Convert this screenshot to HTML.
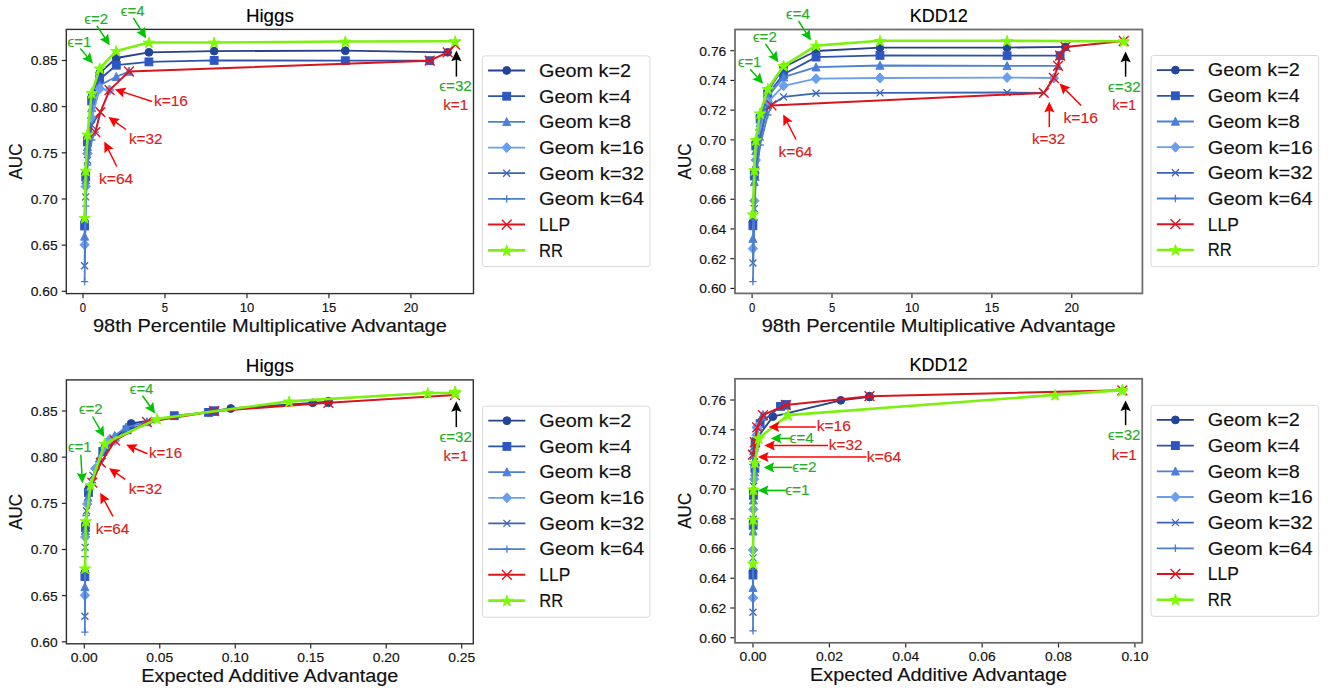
<!DOCTYPE html>
<html><head><meta charset="utf-8"><style>html,body{margin:0;padding:0;background:#fff;width:1331px;height:699px;overflow:hidden}svg{display:block}</style></head><body><svg width="1331" height="699" viewBox="0 0 1331 699" font-family='"Liberation Sans", sans-serif'><rect width="1331" height="699" fill="#fff"/>
<line x1="83" y1="293.6" x2="83" y2="298.2" stroke="#1e1e1e" stroke-width="1.15"/>
<text x="83" y="312" font-size="13.2" fill="#111" text-anchor="middle" stroke="#111" stroke-width="0.15" textLength="6.27" lengthAdjust="spacingAndGlyphs">0</text>
<line x1="164.97" y1="293.6" x2="164.97" y2="298.2" stroke="#1e1e1e" stroke-width="1.15"/>
<text x="164.97" y="312" font-size="13.2" fill="#111" text-anchor="middle" stroke="#111" stroke-width="0.15" textLength="6.27" lengthAdjust="spacingAndGlyphs">5</text>
<line x1="246.95" y1="293.6" x2="246.95" y2="298.2" stroke="#1e1e1e" stroke-width="1.15"/>
<text x="246.95" y="312" font-size="13.2" fill="#111" text-anchor="middle" stroke="#111" stroke-width="0.15" textLength="14.54" lengthAdjust="spacingAndGlyphs">10</text>
<line x1="328.93" y1="293.6" x2="328.93" y2="298.2" stroke="#1e1e1e" stroke-width="1.15"/>
<text x="328.93" y="312" font-size="13.2" fill="#111" text-anchor="middle" stroke="#111" stroke-width="0.15" textLength="14.54" lengthAdjust="spacingAndGlyphs">15</text>
<line x1="410.9" y1="293.6" x2="410.9" y2="298.2" stroke="#1e1e1e" stroke-width="1.15"/>
<text x="410.9" y="312" font-size="13.2" fill="#111" text-anchor="middle" stroke="#111" stroke-width="0.15" textLength="14.54" lengthAdjust="spacingAndGlyphs">20</text>
<line x1="61.7" y1="291.3" x2="66.3" y2="291.3" stroke="#1e1e1e" stroke-width="1.15"/>
<text x="57.6" y="296.2" font-size="13.2" fill="#111" text-anchor="end" stroke="#111" stroke-width="0.15" textLength="26.94" lengthAdjust="spacingAndGlyphs">0.60</text>
<line x1="61.7" y1="245.14" x2="66.3" y2="245.14" stroke="#1e1e1e" stroke-width="1.15"/>
<text x="57.6" y="250.04" font-size="13.2" fill="#111" text-anchor="end" stroke="#111" stroke-width="0.15" textLength="26.94" lengthAdjust="spacingAndGlyphs">0.65</text>
<line x1="61.7" y1="198.98" x2="66.3" y2="198.98" stroke="#1e1e1e" stroke-width="1.15"/>
<text x="57.6" y="203.88" font-size="13.2" fill="#111" text-anchor="end" stroke="#111" stroke-width="0.15" textLength="26.94" lengthAdjust="spacingAndGlyphs">0.70</text>
<line x1="61.7" y1="152.82" x2="66.3" y2="152.82" stroke="#1e1e1e" stroke-width="1.15"/>
<text x="57.6" y="157.72" font-size="13.2" fill="#111" text-anchor="end" stroke="#111" stroke-width="0.15" textLength="26.94" lengthAdjust="spacingAndGlyphs">0.75</text>
<line x1="61.7" y1="106.66" x2="66.3" y2="106.66" stroke="#1e1e1e" stroke-width="1.15"/>
<text x="57.6" y="111.56" font-size="13.2" fill="#111" text-anchor="end" stroke="#111" stroke-width="0.15" textLength="26.94" lengthAdjust="spacingAndGlyphs">0.80</text>
<line x1="61.7" y1="60.5" x2="66.3" y2="60.5" stroke="#1e1e1e" stroke-width="1.15"/>
<text x="57.6" y="65.4" font-size="13.2" fill="#111" text-anchor="end" stroke="#111" stroke-width="0.15" textLength="26.94" lengthAdjust="spacingAndGlyphs">0.85</text>
<rect x="66.3" y="29.4" width="407.2" height="264.2" fill="none" stroke="#303030" stroke-width="1.4"/>
<text x="269.9" y="21.8" font-size="17.8" fill="#000" text-anchor="middle" stroke="#000" stroke-width="0.15" textLength="48" lengthAdjust="spacingAndGlyphs">Higgs</text>
<text x="269.9" y="332.1" font-size="17.6" fill="#111" text-anchor="middle" stroke="#111" stroke-width="0.15" textLength="354" lengthAdjust="spacingAndGlyphs">98th Percentile Multiplicative Advantage</text>
<text x="22.3" y="161.5" font-size="17.6" fill="#111" text-anchor="middle" stroke="#111" stroke-width="0.15" textLength="36" lengthAdjust="spacingAndGlyphs" transform="rotate(-90 22.3 161.5)">AUC</text>
<polyline points="84.61,222 85.71,174 87.51,138 91.69,97 99.72,73 116.28,58 148.91,52.3 214.16,51.1 345.32,50.7 447.62,52.3" fill="none" stroke="#26408a" stroke-width="1.8" stroke-linejoin="round" stroke-linecap="butt"/>
<circle cx="84.61" cy="222" r="3.9" fill="#23449c" stroke="#23449c" stroke-width="1" stroke-linejoin="miter"/>
<circle cx="85.71" cy="174" r="3.9" fill="#23449c" stroke="#23449c" stroke-width="1" stroke-linejoin="miter"/>
<circle cx="87.51" cy="138" r="3.9" fill="#23449c" stroke="#23449c" stroke-width="1" stroke-linejoin="miter"/>
<circle cx="91.69" cy="97" r="3.9" fill="#23449c" stroke="#23449c" stroke-width="1" stroke-linejoin="miter"/>
<circle cx="99.72" cy="73" r="3.9" fill="#23449c" stroke="#23449c" stroke-width="1" stroke-linejoin="miter"/>
<circle cx="116.28" cy="58" r="3.9" fill="#23449c" stroke="#23449c" stroke-width="1" stroke-linejoin="miter"/>
<circle cx="148.91" cy="52.3" r="3.9" fill="#23449c" stroke="#23449c" stroke-width="1" stroke-linejoin="miter"/>
<circle cx="214.16" cy="51.1" r="3.9" fill="#23449c" stroke="#23449c" stroke-width="1" stroke-linejoin="miter"/>
<circle cx="345.32" cy="50.7" r="3.9" fill="#23449c" stroke="#23449c" stroke-width="1" stroke-linejoin="miter"/>
<circle cx="447.62" cy="52.3" r="3.9" fill="#23449c" stroke="#23449c" stroke-width="1" stroke-linejoin="miter"/>
<polyline points="84.61,226 85.71,177 87.51,142 91.69,101 99.72,79.3 116.28,65.2 148.91,61.9 214.16,60.4 345.32,60.7 429.75,60.7" fill="none" stroke="#2d52ac" stroke-width="1.8" stroke-linejoin="round" stroke-linecap="butt"/>
<rect x="80.71" y="222.1" width="7.8" height="7.8" fill="#2c56c2" stroke="#2c56c2" stroke-width="1" stroke-linejoin="miter"/>
<rect x="81.81" y="173.1" width="7.8" height="7.8" fill="#2c56c2" stroke="#2c56c2" stroke-width="1" stroke-linejoin="miter"/>
<rect x="83.61" y="138.1" width="7.8" height="7.8" fill="#2c56c2" stroke="#2c56c2" stroke-width="1" stroke-linejoin="miter"/>
<rect x="87.79" y="97.1" width="7.8" height="7.8" fill="#2c56c2" stroke="#2c56c2" stroke-width="1" stroke-linejoin="miter"/>
<rect x="95.82" y="75.4" width="7.8" height="7.8" fill="#2c56c2" stroke="#2c56c2" stroke-width="1" stroke-linejoin="miter"/>
<rect x="112.38" y="61.3" width="7.8" height="7.8" fill="#2c56c2" stroke="#2c56c2" stroke-width="1" stroke-linejoin="miter"/>
<rect x="145.01" y="58" width="7.8" height="7.8" fill="#2c56c2" stroke="#2c56c2" stroke-width="1" stroke-linejoin="miter"/>
<rect x="210.26" y="56.5" width="7.8" height="7.8" fill="#2c56c2" stroke="#2c56c2" stroke-width="1" stroke-linejoin="miter"/>
<rect x="341.42" y="56.8" width="7.8" height="7.8" fill="#2c56c2" stroke="#2c56c2" stroke-width="1" stroke-linejoin="miter"/>
<rect x="425.85" y="56.8" width="7.8" height="7.8" fill="#2c56c2" stroke="#2c56c2" stroke-width="1" stroke-linejoin="miter"/>
<polyline points="84.61,236.5 85.71,180.3 87.51,147 91.69,108 99.72,85.3 116.28,76.8 128.91,71.5" fill="none" stroke="#4e7fd2" stroke-width="1.8" stroke-linejoin="round" stroke-linecap="butt"/>
<polygon points="84.61,232.2 80.61,240.2 88.61,240.2" fill="#4a80dc" stroke="#4a80dc" stroke-width="1" stroke-linejoin="miter"/>
<polygon points="85.71,176 81.71,184 89.71,184" fill="#4a80dc" stroke="#4a80dc" stroke-width="1" stroke-linejoin="miter"/>
<polygon points="87.51,142.7 83.51,150.7 91.51,150.7" fill="#4a80dc" stroke="#4a80dc" stroke-width="1" stroke-linejoin="miter"/>
<polygon points="91.69,103.7 87.69,111.7 95.69,111.7" fill="#4a80dc" stroke="#4a80dc" stroke-width="1" stroke-linejoin="miter"/>
<polygon points="99.72,81 95.72,89 103.72,89" fill="#4a80dc" stroke="#4a80dc" stroke-width="1" stroke-linejoin="miter"/>
<polygon points="116.28,72.5 112.28,80.5 120.28,80.5" fill="#4a80dc" stroke="#4a80dc" stroke-width="1" stroke-linejoin="miter"/>
<polygon points="128.91,67.2 124.91,75.2 132.91,75.2" fill="#4a80dc" stroke="#4a80dc" stroke-width="1" stroke-linejoin="miter"/>
<polyline points="84.61,244.8 85.71,186.6 87.51,153.4 91.69,118 99.72,88.8 109.56,90.1" fill="none" stroke="#6c9fea" stroke-width="1.8" stroke-linejoin="round" stroke-linecap="butt"/>
<polygon points="84.61,239.8 89.31,244.8 84.61,249.8 79.91,244.8" fill="#6b9ef0" stroke="#6b9ef0" stroke-width="1" stroke-linejoin="miter"/>
<polygon points="85.71,181.6 90.41,186.6 85.71,191.6 81.01,186.6" fill="#6b9ef0" stroke="#6b9ef0" stroke-width="1" stroke-linejoin="miter"/>
<polygon points="87.51,148.4 92.21,153.4 87.51,158.4 82.81,153.4" fill="#6b9ef0" stroke="#6b9ef0" stroke-width="1" stroke-linejoin="miter"/>
<polygon points="91.69,113 96.39,118 91.69,123 86.99,118" fill="#6b9ef0" stroke="#6b9ef0" stroke-width="1" stroke-linejoin="miter"/>
<polygon points="99.72,83.8 104.42,88.8 99.72,93.8 95.02,88.8" fill="#6b9ef0" stroke="#6b9ef0" stroke-width="1" stroke-linejoin="miter"/>
<polygon points="109.56,85.1 114.26,90.1 109.56,95.1 104.86,90.1" fill="#6b9ef0" stroke="#6b9ef0" stroke-width="1" stroke-linejoin="miter"/>
<polyline points="84.61,265.8 85.71,196.9 87.51,160.3 91.69,125 100.38,112.2" fill="none" stroke="#3a63b2" stroke-width="1.8" stroke-linejoin="round" stroke-linecap="butt"/>
<path d="M81.11 262.3L88.11 269.3M81.11 269.3L88.11 262.3" stroke="#3a66b8" stroke-width="1.3"/>
<path d="M82.21 193.4L89.21 200.4M82.21 200.4L89.21 193.4" stroke="#3a66b8" stroke-width="1.3"/>
<path d="M84.01 156.8L91.01 163.8M84.01 163.8L91.01 156.8" stroke="#3a66b8" stroke-width="1.3"/>
<path d="M88.19 121.5L95.19 128.5M88.19 128.5L95.19 121.5" stroke="#3a66b8" stroke-width="1.3"/>
<path d="M96.88 108.7L103.88 115.7M96.88 115.7L103.88 108.7" stroke="#3a66b8" stroke-width="1.3"/>
<polyline points="84.61,281.6 85.71,206.1 87.51,165 91.69,140 95.3,132.2" fill="none" stroke="#4d7fcc" stroke-width="1.8" stroke-linejoin="round" stroke-linecap="butt"/>
<path d="M80.91 281.6L88.31 281.6M84.61 277.9L84.61 285.3" stroke="#4a7ccc" stroke-width="1.3"/>
<path d="M82.01 206.1L89.41 206.1M85.71 202.4L85.71 209.8" stroke="#4a7ccc" stroke-width="1.3"/>
<path d="M83.81 165L91.21 165M87.51 161.3L87.51 168.7" stroke="#4a7ccc" stroke-width="1.3"/>
<path d="M87.99 140L95.39 140M91.69 136.3L91.69 143.7" stroke="#4a7ccc" stroke-width="1.3"/>
<path d="M91.6 132.2L99 132.2M95.3 128.5L95.3 135.9" stroke="#4a7ccc" stroke-width="1.3"/>
<polyline points="95.3,132.2 100.38,112.2 109.56,90.1 128.91,71.5 429.75,60.7 447.62,52.3 455.17,44.5" fill="none" stroke="#d8141e" stroke-width="2" stroke-linejoin="round" stroke-linecap="butt"/>
<path d="M90.4 127.3L100.2 137.1M90.4 137.1L100.2 127.3" stroke="#dc1620" stroke-width="1.4"/>
<path d="M95.48 107.3L105.28 117.1M95.48 117.1L105.28 107.3" stroke="#dc1620" stroke-width="1.4"/>
<path d="M104.66 85.2L114.46 95M104.66 95L114.46 85.2" stroke="#dc1620" stroke-width="1.4"/>
<path d="M124.01 66.6L133.81 76.4M124.01 76.4L133.81 66.6" stroke="#dc1620" stroke-width="1.4"/>
<path d="M424.85 55.8L434.65 65.6M424.85 65.6L434.65 55.8" stroke="#dc1620" stroke-width="1.4"/>
<path d="M442.72 47.4L452.52 57.2M442.72 57.2L452.52 47.4" stroke="#dc1620" stroke-width="1.4"/>
<path d="M450.27 39.6L460.07 49.4M450.27 49.4L460.07 39.6" stroke="#dc1620" stroke-width="1.4"/>
<polyline points="84.61,217.8 85.71,170.6 87.51,134.5 91.69,93 99.72,68.4 116.28,50.9 148.91,42.5 214.16,42.5 345.32,41.5 455.17,41.2" fill="none" stroke="#7cf010" stroke-width="2.6" stroke-linejoin="round" stroke-linecap="butt"/>
<polygon points="84.61,212.3 83.26,216.45 78.9,216.45 82.43,219.01 81.08,223.15 84.61,220.59 88.13,223.15 86.79,219.01 90.31,216.45 85.95,216.45" fill="#7cfc00" stroke="#7cfc00" stroke-width="1" stroke-linejoin="miter"/>
<polygon points="85.71,165.1 84.36,169.25 80,169.25 83.53,171.81 82.18,175.95 85.71,173.39 89.23,175.95 87.88,171.81 91.41,169.25 87.05,169.25" fill="#7cfc00" stroke="#7cfc00" stroke-width="1" stroke-linejoin="miter"/>
<polygon points="87.51,129 86.16,133.15 81.8,133.15 85.33,135.71 83.98,139.85 87.51,137.29 91.04,139.85 89.69,135.71 93.21,133.15 88.86,133.15" fill="#7cfc00" stroke="#7cfc00" stroke-width="1" stroke-linejoin="miter"/>
<polygon points="91.69,87.5 90.34,91.65 85.98,91.65 89.51,94.21 88.16,98.35 91.69,95.79 95.22,98.35 93.87,94.21 97.4,91.65 93.04,91.65" fill="#7cfc00" stroke="#7cfc00" stroke-width="1" stroke-linejoin="miter"/>
<polygon points="99.72,62.9 98.38,67.05 94.02,67.05 97.54,69.61 96.2,73.75 99.72,71.19 103.25,73.75 101.9,69.61 105.43,67.05 101.07,67.05" fill="#7cfc00" stroke="#7cfc00" stroke-width="1" stroke-linejoin="miter"/>
<polygon points="116.28,45.4 114.93,49.55 110.58,49.55 114.1,52.11 112.76,56.25 116.28,53.69 119.81,56.25 118.46,52.11 121.99,49.55 117.63,49.55" fill="#7cfc00" stroke="#7cfc00" stroke-width="1" stroke-linejoin="miter"/>
<polygon points="148.91,37 147.56,41.15 143.2,41.15 146.73,43.71 145.38,47.85 148.91,45.29 152.43,47.85 151.09,43.71 154.61,41.15 150.25,41.15" fill="#7cfc00" stroke="#7cfc00" stroke-width="1" stroke-linejoin="miter"/>
<polygon points="214.16,37 212.81,41.15 208.45,41.15 211.98,43.71 210.63,47.85 214.16,45.29 217.69,47.85 216.34,43.71 219.87,41.15 215.51,41.15" fill="#7cfc00" stroke="#7cfc00" stroke-width="1" stroke-linejoin="miter"/>
<polygon points="345.32,36 343.97,40.15 339.61,40.15 343.14,42.71 341.79,46.85 345.32,44.29 348.85,46.85 347.5,42.71 351.03,40.15 346.67,40.15" fill="#7cfc00" stroke="#7cfc00" stroke-width="1" stroke-linejoin="miter"/>
<polygon points="455.17,35.7 453.82,39.85 449.46,39.85 452.99,42.41 451.64,46.55 455.17,43.99 458.69,46.55 457.35,42.41 460.87,39.85 456.51,39.85" fill="#7cfc00" stroke="#7cfc00" stroke-width="1" stroke-linejoin="miter"/>
<line x1="80.3" y1="48.6" x2="87.57" y2="57.12" stroke="#00c400" stroke-width="1.5"/>
<polygon points="92.95,63.43 82.19,58.68 87.24,56.74 89.95,52.06" fill="#00c400"/>
<text x="67.6" y="46.8" font-size="14.3" fill="#26ad26" text-anchor="start" stroke="#26ad26" stroke-width="0.15" textLength="23.7" lengthAdjust="spacingAndGlyphs">ϵ=1</text>
<line x1="96.9" y1="25.8" x2="105.19" y2="38.27" stroke="#00c400" stroke-width="1.5"/>
<polygon points="109.79,45.18 99.67,39.18 104.92,37.85 108.17,33.53" fill="#00c400"/>
<text x="84.3" y="23.6" font-size="14.3" fill="#26ad26" text-anchor="start" stroke="#26ad26" stroke-width="0.15" textLength="23.7" lengthAdjust="spacingAndGlyphs">ϵ=2</text>
<line x1="133.4" y1="18" x2="141.77" y2="31.36" stroke="#00c400" stroke-width="1.5"/>
<polygon points="146.17,38.39 136.22,32.12 141.5,30.94 144.87,26.7" fill="#00c400"/>
<text x="120.8" y="16.3" font-size="14.3" fill="#26ad26" text-anchor="start" stroke="#26ad26" stroke-width="0.15" textLength="23.7" lengthAdjust="spacingAndGlyphs">ϵ=4</text>
<line x1="456.4" y1="76.6" x2="456.4" y2="58.9" stroke="#000" stroke-width="1.5"/>
<polygon points="456.4,50.6 461.5,61.2 456.4,59.4 451.3,61.2" fill="#000"/>
<text x="439.3" y="90.5" font-size="14.3" fill="#26ad26" text-anchor="start" stroke="#26ad26" stroke-width="0.15" textLength="32.5" lengthAdjust="spacingAndGlyphs">ϵ=32</text>
<text x="443.2" y="109.8" font-size="14.3" fill="#d82020" text-anchor="start" stroke="#d82020" stroke-width="0.15" textLength="24.9" lengthAdjust="spacingAndGlyphs">k=1</text>
<line x1="152" y1="101.5" x2="122.72" y2="91.87" stroke="#ff0000" stroke-width="1.5"/>
<polygon points="114.84,89.28 126.5,87.75 123.19,92.03 123.31,97.44" fill="#ff0000"/>
<text x="153.9" y="106.2" font-size="14.3" fill="#d82020" text-anchor="start" stroke="#d82020" stroke-width="0.15" textLength="34" lengthAdjust="spacingAndGlyphs">k=16</text>
<line x1="126" y1="129.5" x2="115.21" y2="121.88" stroke="#ff0000" stroke-width="1.5"/>
<polygon points="108.43,117.1 120.03,119.04 115.62,122.17 114.15,127.38" fill="#ff0000"/>
<text x="128.9" y="144.1" font-size="14.3" fill="#d82020" text-anchor="start" stroke="#d82020" stroke-width="0.15" textLength="33.5" lengthAdjust="spacingAndGlyphs">k=32</text>
<line x1="116.8" y1="166.5" x2="108.01" y2="148.99" stroke="#ff0000" stroke-width="1.5"/>
<polygon points="104.29,141.57 113.6,148.76 108.23,149.44 104.48,153.34" fill="#ff0000"/>
<text x="99" y="183.6" font-size="14.3" fill="#d82020" text-anchor="start" stroke="#d82020" stroke-width="0.15" textLength="34.3" lengthAdjust="spacingAndGlyphs">k=64</text>
<rect x="482.3" y="55.9" width="167.7" height="210.7" rx="2.5" fill="#fff" stroke="#d9d9d9" stroke-width="1"/>
<line x1="488.1" y1="70.5" x2="525.1" y2="70.5" stroke="#26408a" stroke-width="1.8"/>
<circle cx="506.7" cy="70.5" r="3.9" fill="#23449c" stroke="#23449c" stroke-width="1" stroke-linejoin="miter"/>
<text x="539.1" y="76.8" font-size="17.6" fill="#111" text-anchor="start" stroke="#111" stroke-width="0.15" textLength="92" lengthAdjust="spacingAndGlyphs">Geom k=2</text>
<line x1="488.1" y1="96.2" x2="525.1" y2="96.2" stroke="#2d52ac" stroke-width="1.8"/>
<rect x="502.8" y="92.3" width="7.8" height="7.8" fill="#2c56c2" stroke="#2c56c2" stroke-width="1" stroke-linejoin="miter"/>
<text x="539.1" y="102.5" font-size="17.6" fill="#111" text-anchor="start" stroke="#111" stroke-width="0.15" textLength="92" lengthAdjust="spacingAndGlyphs">Geom k=4</text>
<line x1="488.1" y1="121.9" x2="525.1" y2="121.9" stroke="#4e7fd2" stroke-width="1.8"/>
<polygon points="506.7,117.6 502.7,125.6 510.7,125.6" fill="#4a80dc" stroke="#4a80dc" stroke-width="1" stroke-linejoin="miter"/>
<text x="539.1" y="128.2" font-size="17.6" fill="#111" text-anchor="start" stroke="#111" stroke-width="0.15" textLength="92" lengthAdjust="spacingAndGlyphs">Geom k=8</text>
<line x1="488.1" y1="147.6" x2="525.1" y2="147.6" stroke="#6c9fea" stroke-width="1.8"/>
<polygon points="506.7,142.6 511.4,147.6 506.7,152.6 502,147.6" fill="#6b9ef0" stroke="#6b9ef0" stroke-width="1" stroke-linejoin="miter"/>
<text x="539.1" y="153.9" font-size="17.6" fill="#111" text-anchor="start" stroke="#111" stroke-width="0.15" textLength="105" lengthAdjust="spacingAndGlyphs">Geom k=16</text>
<line x1="488.1" y1="173.2" x2="525.1" y2="173.2" stroke="#3a63b2" stroke-width="1.8"/>
<path d="M503.2 169.7L510.2 176.7M503.2 176.7L510.2 169.7" stroke="#3a66b8" stroke-width="1.3"/>
<text x="539.1" y="179.5" font-size="17.6" fill="#111" text-anchor="start" stroke="#111" stroke-width="0.15" textLength="105" lengthAdjust="spacingAndGlyphs">Geom k=32</text>
<line x1="488.1" y1="198.9" x2="525.1" y2="198.9" stroke="#4d7fcc" stroke-width="1.8"/>
<path d="M503 198.9L510.4 198.9M506.7 195.2L506.7 202.6" stroke="#4a7ccc" stroke-width="1.3"/>
<text x="539.1" y="205.2" font-size="17.6" fill="#111" text-anchor="start" stroke="#111" stroke-width="0.15" textLength="105" lengthAdjust="spacingAndGlyphs">Geom k=64</text>
<line x1="488.1" y1="224.6" x2="525.1" y2="224.6" stroke="#d8141e" stroke-width="2"/>
<path d="M501.8 219.7L511.6 229.5M501.8 229.5L511.6 219.7" stroke="#dc1620" stroke-width="1.4"/>
<text x="539.1" y="230.9" font-size="17.6" fill="#111" text-anchor="start" stroke="#111" stroke-width="0.15" textLength="31" lengthAdjust="spacingAndGlyphs">LLP</text>
<line x1="488.1" y1="250.4" x2="525.1" y2="250.4" stroke="#7cf010" stroke-width="2.6"/>
<polygon points="506.7,244.9 505.35,249.05 500.99,249.05 504.52,251.61 503.17,255.75 506.7,253.19 510.23,255.75 508.88,251.61 512.41,249.05 508.05,249.05" fill="#7cfc00" stroke="#7cfc00" stroke-width="1" stroke-linejoin="miter"/>
<text x="539.1" y="256.7" font-size="17.6" fill="#111" text-anchor="start" stroke="#111" stroke-width="0.15" textLength="24" lengthAdjust="spacingAndGlyphs">RR</text>
<line x1="752.1" y1="293.4" x2="752.1" y2="298" stroke="#1e1e1e" stroke-width="1.15"/>
<text x="752.1" y="311.8" font-size="13.2" fill="#111" text-anchor="middle" stroke="#111" stroke-width="0.15" textLength="6.27" lengthAdjust="spacingAndGlyphs">0</text>
<line x1="832.02" y1="293.4" x2="832.02" y2="298" stroke="#1e1e1e" stroke-width="1.15"/>
<text x="832.02" y="311.8" font-size="13.2" fill="#111" text-anchor="middle" stroke="#111" stroke-width="0.15" textLength="6.27" lengthAdjust="spacingAndGlyphs">5</text>
<line x1="911.95" y1="293.4" x2="911.95" y2="298" stroke="#1e1e1e" stroke-width="1.15"/>
<text x="911.95" y="311.8" font-size="13.2" fill="#111" text-anchor="middle" stroke="#111" stroke-width="0.15" textLength="14.54" lengthAdjust="spacingAndGlyphs">10</text>
<line x1="991.88" y1="293.4" x2="991.88" y2="298" stroke="#1e1e1e" stroke-width="1.15"/>
<text x="991.88" y="311.8" font-size="13.2" fill="#111" text-anchor="middle" stroke="#111" stroke-width="0.15" textLength="14.54" lengthAdjust="spacingAndGlyphs">15</text>
<line x1="1071.8" y1="293.4" x2="1071.8" y2="298" stroke="#1e1e1e" stroke-width="1.15"/>
<text x="1071.8" y="311.8" font-size="13.2" fill="#111" text-anchor="middle" stroke="#111" stroke-width="0.15" textLength="14.54" lengthAdjust="spacingAndGlyphs">20</text>
<line x1="730.4" y1="288.4" x2="735" y2="288.4" stroke="#1e1e1e" stroke-width="1.15"/>
<text x="726.3" y="293.3" font-size="13.2" fill="#111" text-anchor="end" stroke="#111" stroke-width="0.15" textLength="26.94" lengthAdjust="spacingAndGlyphs">0.60</text>
<line x1="730.4" y1="258.69" x2="735" y2="258.69" stroke="#1e1e1e" stroke-width="1.15"/>
<text x="726.3" y="263.59" font-size="13.2" fill="#111" text-anchor="end" stroke="#111" stroke-width="0.15" textLength="26.94" lengthAdjust="spacingAndGlyphs">0.62</text>
<line x1="730.4" y1="228.97" x2="735" y2="228.97" stroke="#1e1e1e" stroke-width="1.15"/>
<text x="726.3" y="233.87" font-size="13.2" fill="#111" text-anchor="end" stroke="#111" stroke-width="0.15" textLength="26.94" lengthAdjust="spacingAndGlyphs">0.64</text>
<line x1="730.4" y1="199.26" x2="735" y2="199.26" stroke="#1e1e1e" stroke-width="1.15"/>
<text x="726.3" y="204.16" font-size="13.2" fill="#111" text-anchor="end" stroke="#111" stroke-width="0.15" textLength="26.94" lengthAdjust="spacingAndGlyphs">0.66</text>
<line x1="730.4" y1="169.55" x2="735" y2="169.55" stroke="#1e1e1e" stroke-width="1.15"/>
<text x="726.3" y="174.45" font-size="13.2" fill="#111" text-anchor="end" stroke="#111" stroke-width="0.15" textLength="26.94" lengthAdjust="spacingAndGlyphs">0.68</text>
<line x1="730.4" y1="139.84" x2="735" y2="139.84" stroke="#1e1e1e" stroke-width="1.15"/>
<text x="726.3" y="144.74" font-size="13.2" fill="#111" text-anchor="end" stroke="#111" stroke-width="0.15" textLength="26.94" lengthAdjust="spacingAndGlyphs">0.70</text>
<line x1="730.4" y1="110.13" x2="735" y2="110.13" stroke="#1e1e1e" stroke-width="1.15"/>
<text x="726.3" y="115.03" font-size="13.2" fill="#111" text-anchor="end" stroke="#111" stroke-width="0.15" textLength="26.94" lengthAdjust="spacingAndGlyphs">0.72</text>
<line x1="730.4" y1="80.41" x2="735" y2="80.41" stroke="#1e1e1e" stroke-width="1.15"/>
<text x="726.3" y="85.31" font-size="13.2" fill="#111" text-anchor="end" stroke="#111" stroke-width="0.15" textLength="26.94" lengthAdjust="spacingAndGlyphs">0.74</text>
<line x1="730.4" y1="50.7" x2="735" y2="50.7" stroke="#1e1e1e" stroke-width="1.15"/>
<text x="726.3" y="55.6" font-size="13.2" fill="#111" text-anchor="end" stroke="#111" stroke-width="0.15" textLength="26.94" lengthAdjust="spacingAndGlyphs">0.76</text>
<rect x="735" y="29.5" width="407.4" height="263.9" fill="none" stroke="#6e6e6e" stroke-width="1.8"/>
<text x="938.7" y="21.9" font-size="17.8" fill="#000" text-anchor="middle" stroke="#000" stroke-width="0.15" textLength="58" lengthAdjust="spacingAndGlyphs">KDD12</text>
<text x="938.7" y="331.9" font-size="17.6" fill="#111" text-anchor="middle" stroke="#111" stroke-width="0.15" textLength="354" lengthAdjust="spacingAndGlyphs">98th Percentile Multiplicative Advantage</text>
<text x="691" y="161.45" font-size="17.6" fill="#111" text-anchor="middle" stroke="#111" stroke-width="0.15" textLength="36" lengthAdjust="spacingAndGlyphs" transform="rotate(-90 691 161.45)">AUC</text>
<polyline points="752.9,222 754.34,172 755.78,142 760.09,116 767.77,91 783.59,67.3 816.04,51 879.98,47.6 1007.06,47.6 1065.41,46.9" fill="none" stroke="#26408a" stroke-width="1.8" stroke-linejoin="round" stroke-linecap="butt"/>
<circle cx="752.9" cy="222" r="3.9" fill="#23449c" stroke="#23449c" stroke-width="1" stroke-linejoin="miter"/>
<circle cx="754.34" cy="172" r="3.9" fill="#23449c" stroke="#23449c" stroke-width="1" stroke-linejoin="miter"/>
<circle cx="755.78" cy="142" r="3.9" fill="#23449c" stroke="#23449c" stroke-width="1" stroke-linejoin="miter"/>
<circle cx="760.09" cy="116" r="3.9" fill="#23449c" stroke="#23449c" stroke-width="1" stroke-linejoin="miter"/>
<circle cx="767.77" cy="91" r="3.9" fill="#23449c" stroke="#23449c" stroke-width="1" stroke-linejoin="miter"/>
<circle cx="783.59" cy="67.3" r="3.9" fill="#23449c" stroke="#23449c" stroke-width="1" stroke-linejoin="miter"/>
<circle cx="816.04" cy="51" r="3.9" fill="#23449c" stroke="#23449c" stroke-width="1" stroke-linejoin="miter"/>
<circle cx="879.98" cy="47.6" r="3.9" fill="#23449c" stroke="#23449c" stroke-width="1" stroke-linejoin="miter"/>
<circle cx="1007.06" cy="47.6" r="3.9" fill="#23449c" stroke="#23449c" stroke-width="1" stroke-linejoin="miter"/>
<circle cx="1065.41" cy="46.9" r="3.9" fill="#23449c" stroke="#23449c" stroke-width="1" stroke-linejoin="miter"/>
<polyline points="752.9,225.8 754.34,176 755.78,146 760.09,119 767.77,94 783.59,74.3 816.04,57.1 879.98,55.4 1007.06,55.7 1060.13,55.7" fill="none" stroke="#2d52ac" stroke-width="1.8" stroke-linejoin="round" stroke-linecap="butt"/>
<rect x="749" y="221.9" width="7.8" height="7.8" fill="#2c56c2" stroke="#2c56c2" stroke-width="1" stroke-linejoin="miter"/>
<rect x="750.44" y="172.1" width="7.8" height="7.8" fill="#2c56c2" stroke="#2c56c2" stroke-width="1" stroke-linejoin="miter"/>
<rect x="751.88" y="142.1" width="7.8" height="7.8" fill="#2c56c2" stroke="#2c56c2" stroke-width="1" stroke-linejoin="miter"/>
<rect x="756.19" y="115.1" width="7.8" height="7.8" fill="#2c56c2" stroke="#2c56c2" stroke-width="1" stroke-linejoin="miter"/>
<rect x="763.87" y="90.1" width="7.8" height="7.8" fill="#2c56c2" stroke="#2c56c2" stroke-width="1" stroke-linejoin="miter"/>
<rect x="779.69" y="70.4" width="7.8" height="7.8" fill="#2c56c2" stroke="#2c56c2" stroke-width="1" stroke-linejoin="miter"/>
<rect x="812.14" y="53.2" width="7.8" height="7.8" fill="#2c56c2" stroke="#2c56c2" stroke-width="1" stroke-linejoin="miter"/>
<rect x="876.08" y="51.5" width="7.8" height="7.8" fill="#2c56c2" stroke="#2c56c2" stroke-width="1" stroke-linejoin="miter"/>
<rect x="1003.16" y="51.8" width="7.8" height="7.8" fill="#2c56c2" stroke="#2c56c2" stroke-width="1" stroke-linejoin="miter"/>
<rect x="1056.23" y="51.8" width="7.8" height="7.8" fill="#2c56c2" stroke="#2c56c2" stroke-width="1" stroke-linejoin="miter"/>
<polyline points="752.9,238.6 754.34,182 755.78,151 760.09,123 767.77,97 783.59,77.2 816.04,67.2 879.98,65.5 1007.06,65.9 1058.05,65.9" fill="none" stroke="#4e7fd2" stroke-width="1.8" stroke-linejoin="round" stroke-linecap="butt"/>
<polygon points="752.9,234.3 748.9,242.3 756.9,242.3" fill="#4a80dc" stroke="#4a80dc" stroke-width="1" stroke-linejoin="miter"/>
<polygon points="754.34,177.7 750.34,185.7 758.34,185.7" fill="#4a80dc" stroke="#4a80dc" stroke-width="1" stroke-linejoin="miter"/>
<polygon points="755.78,146.7 751.78,154.7 759.78,154.7" fill="#4a80dc" stroke="#4a80dc" stroke-width="1" stroke-linejoin="miter"/>
<polygon points="760.09,118.7 756.09,126.7 764.09,126.7" fill="#4a80dc" stroke="#4a80dc" stroke-width="1" stroke-linejoin="miter"/>
<polygon points="767.77,92.7 763.77,100.7 771.77,100.7" fill="#4a80dc" stroke="#4a80dc" stroke-width="1" stroke-linejoin="miter"/>
<polygon points="783.59,72.9 779.59,80.9 787.59,80.9" fill="#4a80dc" stroke="#4a80dc" stroke-width="1" stroke-linejoin="miter"/>
<polygon points="816.04,62.9 812.04,70.9 820.04,70.9" fill="#4a80dc" stroke="#4a80dc" stroke-width="1" stroke-linejoin="miter"/>
<polygon points="879.98,61.2 875.98,69.2 883.98,69.2" fill="#4a80dc" stroke="#4a80dc" stroke-width="1" stroke-linejoin="miter"/>
<polygon points="1007.06,61.6 1003.06,69.6 1011.06,69.6" fill="#4a80dc" stroke="#4a80dc" stroke-width="1" stroke-linejoin="miter"/>
<polygon points="1058.05,61.6 1054.05,69.6 1062.05,69.6" fill="#4a80dc" stroke="#4a80dc" stroke-width="1" stroke-linejoin="miter"/>
<polyline points="752.9,248.6 754.34,200.7 755.78,160 760.09,130 767.77,102 783.59,85.8 816.04,78.7 879.98,78 1007.06,77.6 1053.9,78" fill="none" stroke="#6c9fea" stroke-width="1.8" stroke-linejoin="round" stroke-linecap="butt"/>
<polygon points="752.9,243.6 757.6,248.6 752.9,253.6 748.2,248.6" fill="#6b9ef0" stroke="#6b9ef0" stroke-width="1" stroke-linejoin="miter"/>
<polygon points="754.34,195.7 759.04,200.7 754.34,205.7 749.64,200.7" fill="#6b9ef0" stroke="#6b9ef0" stroke-width="1" stroke-linejoin="miter"/>
<polygon points="755.78,155 760.48,160 755.78,165 751.08,160" fill="#6b9ef0" stroke="#6b9ef0" stroke-width="1" stroke-linejoin="miter"/>
<polygon points="760.09,125 764.79,130 760.09,135 755.39,130" fill="#6b9ef0" stroke="#6b9ef0" stroke-width="1" stroke-linejoin="miter"/>
<polygon points="767.77,97 772.47,102 767.77,107 763.07,102" fill="#6b9ef0" stroke="#6b9ef0" stroke-width="1" stroke-linejoin="miter"/>
<polygon points="783.59,80.8 788.29,85.8 783.59,90.8 778.89,85.8" fill="#6b9ef0" stroke="#6b9ef0" stroke-width="1" stroke-linejoin="miter"/>
<polygon points="816.04,73.7 820.74,78.7 816.04,83.7 811.34,78.7" fill="#6b9ef0" stroke="#6b9ef0" stroke-width="1" stroke-linejoin="miter"/>
<polygon points="879.98,73 884.68,78 879.98,83 875.28,78" fill="#6b9ef0" stroke="#6b9ef0" stroke-width="1" stroke-linejoin="miter"/>
<polygon points="1007.06,72.6 1011.76,77.6 1007.06,82.6 1002.36,77.6" fill="#6b9ef0" stroke="#6b9ef0" stroke-width="1" stroke-linejoin="miter"/>
<polygon points="1053.9,73 1058.6,78 1053.9,83 1049.2,78" fill="#6b9ef0" stroke="#6b9ef0" stroke-width="1" stroke-linejoin="miter"/>
<polyline points="752.9,263 754.34,208.6 755.78,170 760.09,137 767.77,107 783.59,96.9 816.04,93.3 879.98,92.9 1007.06,92.5 1043.83,92.9" fill="none" stroke="#3a63b2" stroke-width="1.8" stroke-linejoin="round" stroke-linecap="butt"/>
<path d="M749.4 259.5L756.4 266.5M749.4 266.5L756.4 259.5" stroke="#3a66b8" stroke-width="1.3"/>
<path d="M750.84 205.1L757.84 212.1M750.84 212.1L757.84 205.1" stroke="#3a66b8" stroke-width="1.3"/>
<path d="M752.28 166.5L759.28 173.5M752.28 173.5L759.28 166.5" stroke="#3a66b8" stroke-width="1.3"/>
<path d="M756.59 133.5L763.59 140.5M756.59 140.5L763.59 133.5" stroke="#3a66b8" stroke-width="1.3"/>
<path d="M764.27 103.5L771.27 110.5M764.27 110.5L771.27 103.5" stroke="#3a66b8" stroke-width="1.3"/>
<path d="M780.09 93.4L787.09 100.4M780.09 100.4L787.09 93.4" stroke="#3a66b8" stroke-width="1.3"/>
<path d="M812.54 89.8L819.54 96.8M812.54 96.8L819.54 89.8" stroke="#3a66b8" stroke-width="1.3"/>
<path d="M876.48 89.4L883.48 96.4M876.48 96.4L883.48 89.4" stroke="#3a66b8" stroke-width="1.3"/>
<path d="M1003.56 89L1010.56 96M1003.56 96L1010.56 89" stroke="#3a66b8" stroke-width="1.3"/>
<path d="M1040.33 89.4L1047.33 96.4M1040.33 96.4L1047.33 89.4" stroke="#3a66b8" stroke-width="1.3"/>
<polyline points="752.9,281.6 754.34,220 755.78,180 760.09,145 767.77,115 771.44,105.4" fill="none" stroke="#4d7fcc" stroke-width="1.8" stroke-linejoin="round" stroke-linecap="butt"/>
<path d="M749.2 281.6L756.6 281.6M752.9 277.9L752.9 285.3" stroke="#4a7ccc" stroke-width="1.3"/>
<path d="M750.64 220L758.04 220M754.34 216.3L754.34 223.7" stroke="#4a7ccc" stroke-width="1.3"/>
<path d="M752.08 180L759.48 180M755.78 176.3L755.78 183.7" stroke="#4a7ccc" stroke-width="1.3"/>
<path d="M756.39 145L763.79 145M760.09 141.3L760.09 148.7" stroke="#4a7ccc" stroke-width="1.3"/>
<path d="M764.07 115L771.47 115M767.77 111.3L767.77 118.7" stroke="#4a7ccc" stroke-width="1.3"/>
<path d="M767.74 105.4L775.14 105.4M771.44 101.7L771.44 109.1" stroke="#4a7ccc" stroke-width="1.3"/>
<polyline points="771.44,105.4 1043.83,92.9 1053.9,78 1058.05,65.9 1060.13,55.7 1065.41,46.9 1123.75,41" fill="none" stroke="#d8141e" stroke-width="2" stroke-linejoin="round" stroke-linecap="butt"/>
<path d="M766.54 100.5L776.34 110.3M766.54 110.3L776.34 100.5" stroke="#dc1620" stroke-width="1.4"/>
<path d="M1038.93 88L1048.73 97.8M1038.93 97.8L1048.73 88" stroke="#dc1620" stroke-width="1.4"/>
<path d="M1049 73.1L1058.8 82.9M1049 82.9L1058.8 73.1" stroke="#dc1620" stroke-width="1.4"/>
<path d="M1053.15 61L1062.95 70.8M1053.15 70.8L1062.95 61" stroke="#dc1620" stroke-width="1.4"/>
<path d="M1055.23 50.8L1065.03 60.6M1055.23 60.6L1065.03 50.8" stroke="#dc1620" stroke-width="1.4"/>
<path d="M1060.51 42L1070.31 51.8M1060.51 51.8L1070.31 42" stroke="#dc1620" stroke-width="1.4"/>
<path d="M1118.85 36.1L1128.65 45.9M1118.85 45.9L1128.65 36.1" stroke="#dc1620" stroke-width="1.4"/>
<polyline points="752.9,214.3 754.34,170.1 755.78,140.1 760.09,113.3 767.77,88.9 783.59,65.8 816.04,45.6 879.98,40.8 1007.06,40.8 1123.75,41.2" fill="none" stroke="#7cf010" stroke-width="2.6" stroke-linejoin="round" stroke-linecap="butt"/>
<polygon points="752.9,208.8 751.55,212.95 747.19,212.95 750.72,215.51 749.37,219.65 752.9,217.09 756.43,219.65 755.08,215.51 758.61,212.95 754.25,212.95" fill="#7cfc00" stroke="#7cfc00" stroke-width="1" stroke-linejoin="miter"/>
<polygon points="754.34,164.6 752.99,168.75 748.63,168.75 752.16,171.31 750.81,175.45 754.34,172.89 757.86,175.45 756.52,171.31 760.04,168.75 755.68,168.75" fill="#7cfc00" stroke="#7cfc00" stroke-width="1" stroke-linejoin="miter"/>
<polygon points="755.78,134.6 754.43,138.75 750.07,138.75 753.6,141.31 752.25,145.45 755.78,142.89 759.3,145.45 757.96,141.31 761.48,138.75 757.12,138.75" fill="#7cfc00" stroke="#7cfc00" stroke-width="1" stroke-linejoin="miter"/>
<polygon points="760.09,107.8 758.75,111.95 754.39,111.95 757.91,114.51 756.57,118.65 760.09,116.09 763.62,118.65 762.27,114.51 765.8,111.95 761.44,111.95" fill="#7cfc00" stroke="#7cfc00" stroke-width="1" stroke-linejoin="miter"/>
<polygon points="767.77,83.4 766.42,87.55 762.06,87.55 765.59,90.11 764.24,94.25 767.77,91.69 771.29,94.25 769.94,90.11 773.47,87.55 769.11,87.55" fill="#7cfc00" stroke="#7cfc00" stroke-width="1" stroke-linejoin="miter"/>
<polygon points="783.59,60.3 782.24,64.45 777.88,64.45 781.41,67.01 780.06,71.15 783.59,68.59 787.12,71.15 785.77,67.01 789.3,64.45 784.94,64.45" fill="#7cfc00" stroke="#7cfc00" stroke-width="1" stroke-linejoin="miter"/>
<polygon points="816.04,40.1 814.69,44.25 810.33,44.25 813.86,46.81 812.51,50.95 816.04,48.39 819.57,50.95 818.22,46.81 821.75,44.25 817.39,44.25" fill="#7cfc00" stroke="#7cfc00" stroke-width="1" stroke-linejoin="miter"/>
<polygon points="879.98,35.3 878.63,39.45 874.27,39.45 877.8,42.01 876.45,46.15 879.98,43.59 883.51,46.15 882.16,42.01 885.69,39.45 881.33,39.45" fill="#7cfc00" stroke="#7cfc00" stroke-width="1" stroke-linejoin="miter"/>
<polygon points="1007.06,35.3 1005.71,39.45 1001.35,39.45 1004.88,42.01 1003.53,46.15 1007.06,43.59 1010.59,46.15 1009.24,42.01 1012.77,39.45 1008.41,39.45" fill="#7cfc00" stroke="#7cfc00" stroke-width="1" stroke-linejoin="miter"/>
<polygon points="1123.75,35.7 1122.4,39.85 1118.04,39.85 1121.57,42.41 1120.22,46.55 1123.75,43.99 1127.28,46.55 1125.93,42.41 1129.46,39.85 1125.1,39.85" fill="#7cfc00" stroke="#7cfc00" stroke-width="1" stroke-linejoin="miter"/>
<line x1="750.2" y1="69.2" x2="757.58" y2="77.59" stroke="#00c400" stroke-width="1.5"/>
<polygon points="763.06,83.83 752.23,79.23 757.25,77.22 759.89,72.5" fill="#00c400"/>
<text x="737.9" y="66.6" font-size="14.3" fill="#26ad26" text-anchor="start" stroke="#26ad26" stroke-width="0.15" textLength="23.4" lengthAdjust="spacingAndGlyphs">ϵ=1</text>
<line x1="765.5" y1="44" x2="773.6" y2="55.4" stroke="#00c400" stroke-width="1.5"/>
<polygon points="778.41,62.17 768.11,56.48 773.31,55 776.43,50.58" fill="#00c400"/>
<text x="752.9" y="41.5" font-size="14.3" fill="#26ad26" text-anchor="start" stroke="#26ad26" stroke-width="0.15" textLength="23.9" lengthAdjust="spacingAndGlyphs">ϵ=2</text>
<line x1="798.6" y1="21" x2="806.54" y2="33.57" stroke="#00c400" stroke-width="1.5"/>
<polygon points="810.97,40.59 801,34.35 806.27,33.15 809.63,28.91" fill="#00c400"/>
<text x="786" y="18.8" font-size="14.3" fill="#26ad26" text-anchor="start" stroke="#26ad26" stroke-width="0.15" textLength="23.9" lengthAdjust="spacingAndGlyphs">ϵ=4</text>
<line x1="1125.6" y1="76.7" x2="1125.6" y2="59.9" stroke="#000" stroke-width="1.5"/>
<polygon points="1125.6,51.6 1130.7,62.2 1125.6,60.4 1120.5,62.2" fill="#000"/>
<text x="1108.1" y="91.6" font-size="14.3" fill="#26ad26" text-anchor="start" stroke="#26ad26" stroke-width="0.15" textLength="32.5" lengthAdjust="spacingAndGlyphs">ϵ=32</text>
<text x="1112.2" y="109.6" font-size="14.3" fill="#d82020" text-anchor="start" stroke="#d82020" stroke-width="0.15" textLength="24.1" lengthAdjust="spacingAndGlyphs">k=1</text>
<line x1="796" y1="139.5" x2="786.95" y2="121.77" stroke="#ff0000" stroke-width="1.5"/>
<polygon points="783.18,114.38 792.54,121.5 787.18,122.22 783.46,126.14" fill="#ff0000"/>
<text x="778.4" y="156.6" font-size="14.3" fill="#d82020" text-anchor="start" stroke="#d82020" stroke-width="0.15" textLength="34" lengthAdjust="spacingAndGlyphs">k=64</text>
<line x1="1049.3" y1="127" x2="1049.3" y2="110.1" stroke="#ff0000" stroke-width="1.5"/>
<polygon points="1049.3,101.8 1054.4,112.4 1049.3,110.6 1044.2,112.4" fill="#ff0000"/>
<text x="1031.9" y="144.1" font-size="14.3" fill="#d82020" text-anchor="start" stroke="#d82020" stroke-width="0.15" textLength="33.4" lengthAdjust="spacingAndGlyphs">k=32</text>
<line x1="1081.1" y1="105.5" x2="1065.32" y2="89.42" stroke="#ff0000" stroke-width="1.5"/>
<polygon points="1059.51,83.5 1070.57,87.49 1065.67,89.78 1063.29,94.64" fill="#ff0000"/>
<text x="1063.4" y="122.5" font-size="14.3" fill="#d82020" text-anchor="start" stroke="#d82020" stroke-width="0.15" textLength="34.5" lengthAdjust="spacingAndGlyphs">k=16</text>
<rect x="1151" y="55.5" width="167.6" height="211.2" rx="2.5" fill="#fff" stroke="#d9d9d9" stroke-width="1"/>
<line x1="1156.8" y1="70.1" x2="1193.8" y2="70.1" stroke="#26408a" stroke-width="1.8"/>
<circle cx="1175.4" cy="70.1" r="3.9" fill="#23449c" stroke="#23449c" stroke-width="1" stroke-linejoin="miter"/>
<text x="1207.8" y="76.4" font-size="17.6" fill="#111" text-anchor="start" stroke="#111" stroke-width="0.15" textLength="92" lengthAdjust="spacingAndGlyphs">Geom k=2</text>
<line x1="1156.8" y1="95.8" x2="1193.8" y2="95.8" stroke="#2d52ac" stroke-width="1.8"/>
<rect x="1171.5" y="91.9" width="7.8" height="7.8" fill="#2c56c2" stroke="#2c56c2" stroke-width="1" stroke-linejoin="miter"/>
<text x="1207.8" y="102.1" font-size="17.6" fill="#111" text-anchor="start" stroke="#111" stroke-width="0.15" textLength="92" lengthAdjust="spacingAndGlyphs">Geom k=4</text>
<line x1="1156.8" y1="121.5" x2="1193.8" y2="121.5" stroke="#4e7fd2" stroke-width="1.8"/>
<polygon points="1175.4,117.2 1171.4,125.2 1179.4,125.2" fill="#4a80dc" stroke="#4a80dc" stroke-width="1" stroke-linejoin="miter"/>
<text x="1207.8" y="127.8" font-size="17.6" fill="#111" text-anchor="start" stroke="#111" stroke-width="0.15" textLength="92" lengthAdjust="spacingAndGlyphs">Geom k=8</text>
<line x1="1156.8" y1="147.2" x2="1193.8" y2="147.2" stroke="#6c9fea" stroke-width="1.8"/>
<polygon points="1175.4,142.2 1180.1,147.2 1175.4,152.2 1170.7,147.2" fill="#6b9ef0" stroke="#6b9ef0" stroke-width="1" stroke-linejoin="miter"/>
<text x="1207.8" y="153.5" font-size="17.6" fill="#111" text-anchor="start" stroke="#111" stroke-width="0.15" textLength="105" lengthAdjust="spacingAndGlyphs">Geom k=16</text>
<line x1="1156.8" y1="172.8" x2="1193.8" y2="172.8" stroke="#3a63b2" stroke-width="1.8"/>
<path d="M1171.9 169.3L1178.9 176.3M1171.9 176.3L1178.9 169.3" stroke="#3a66b8" stroke-width="1.3"/>
<text x="1207.8" y="179.1" font-size="17.6" fill="#111" text-anchor="start" stroke="#111" stroke-width="0.15" textLength="105" lengthAdjust="spacingAndGlyphs">Geom k=32</text>
<line x1="1156.8" y1="198.5" x2="1193.8" y2="198.5" stroke="#4d7fcc" stroke-width="1.8"/>
<path d="M1171.7 198.5L1179.1 198.5M1175.4 194.8L1175.4 202.2" stroke="#4a7ccc" stroke-width="1.3"/>
<text x="1207.8" y="204.8" font-size="17.6" fill="#111" text-anchor="start" stroke="#111" stroke-width="0.15" textLength="105" lengthAdjust="spacingAndGlyphs">Geom k=64</text>
<line x1="1156.8" y1="224.2" x2="1193.8" y2="224.2" stroke="#d8141e" stroke-width="2"/>
<path d="M1170.5 219.3L1180.3 229.1M1170.5 229.1L1180.3 219.3" stroke="#dc1620" stroke-width="1.4"/>
<text x="1207.8" y="230.5" font-size="17.6" fill="#111" text-anchor="start" stroke="#111" stroke-width="0.15" textLength="31" lengthAdjust="spacingAndGlyphs">LLP</text>
<line x1="1156.8" y1="250" x2="1193.8" y2="250" stroke="#7cf010" stroke-width="2.6"/>
<polygon points="1175.4,244.5 1174.05,248.65 1169.69,248.65 1173.22,251.21 1171.87,255.35 1175.4,252.79 1178.93,255.35 1177.58,251.21 1181.11,248.65 1176.75,248.65" fill="#7cfc00" stroke="#7cfc00" stroke-width="1" stroke-linejoin="miter"/>
<text x="1207.8" y="256.3" font-size="17.6" fill="#111" text-anchor="start" stroke="#111" stroke-width="0.15" textLength="24" lengthAdjust="spacingAndGlyphs">RR</text>
<line x1="84.3" y1="643.8" x2="84.3" y2="648.4" stroke="#1e1e1e" stroke-width="1.15"/>
<text x="84.3" y="662.2" font-size="13.2" fill="#111" text-anchor="middle" stroke="#111" stroke-width="0.15" textLength="26.94" lengthAdjust="spacingAndGlyphs">0.00</text>
<line x1="159.78" y1="643.8" x2="159.78" y2="648.4" stroke="#1e1e1e" stroke-width="1.15"/>
<text x="159.78" y="662.2" font-size="13.2" fill="#111" text-anchor="middle" stroke="#111" stroke-width="0.15" textLength="26.94" lengthAdjust="spacingAndGlyphs">0.05</text>
<line x1="235.26" y1="643.8" x2="235.26" y2="648.4" stroke="#1e1e1e" stroke-width="1.15"/>
<text x="235.26" y="662.2" font-size="13.2" fill="#111" text-anchor="middle" stroke="#111" stroke-width="0.15" textLength="26.94" lengthAdjust="spacingAndGlyphs">0.10</text>
<line x1="310.74" y1="643.8" x2="310.74" y2="648.4" stroke="#1e1e1e" stroke-width="1.15"/>
<text x="310.74" y="662.2" font-size="13.2" fill="#111" text-anchor="middle" stroke="#111" stroke-width="0.15" textLength="26.94" lengthAdjust="spacingAndGlyphs">0.15</text>
<line x1="386.22" y1="643.8" x2="386.22" y2="648.4" stroke="#1e1e1e" stroke-width="1.15"/>
<text x="386.22" y="662.2" font-size="13.2" fill="#111" text-anchor="middle" stroke="#111" stroke-width="0.15" textLength="26.94" lengthAdjust="spacingAndGlyphs">0.20</text>
<line x1="461.7" y1="643.8" x2="461.7" y2="648.4" stroke="#1e1e1e" stroke-width="1.15"/>
<text x="461.7" y="662.2" font-size="13.2" fill="#111" text-anchor="middle" stroke="#111" stroke-width="0.15" textLength="26.94" lengthAdjust="spacingAndGlyphs">0.25</text>
<line x1="61.8" y1="641.8" x2="66.4" y2="641.8" stroke="#1e1e1e" stroke-width="1.15"/>
<text x="57.7" y="646.7" font-size="13.2" fill="#111" text-anchor="end" stroke="#111" stroke-width="0.15" textLength="26.94" lengthAdjust="spacingAndGlyphs">0.60</text>
<line x1="61.8" y1="595.64" x2="66.4" y2="595.64" stroke="#1e1e1e" stroke-width="1.15"/>
<text x="57.7" y="600.54" font-size="13.2" fill="#111" text-anchor="end" stroke="#111" stroke-width="0.15" textLength="26.94" lengthAdjust="spacingAndGlyphs">0.65</text>
<line x1="61.8" y1="549.48" x2="66.4" y2="549.48" stroke="#1e1e1e" stroke-width="1.15"/>
<text x="57.7" y="554.38" font-size="13.2" fill="#111" text-anchor="end" stroke="#111" stroke-width="0.15" textLength="26.94" lengthAdjust="spacingAndGlyphs">0.70</text>
<line x1="61.8" y1="503.32" x2="66.4" y2="503.32" stroke="#1e1e1e" stroke-width="1.15"/>
<text x="57.7" y="508.22" font-size="13.2" fill="#111" text-anchor="end" stroke="#111" stroke-width="0.15" textLength="26.94" lengthAdjust="spacingAndGlyphs">0.75</text>
<line x1="61.8" y1="457.16" x2="66.4" y2="457.16" stroke="#1e1e1e" stroke-width="1.15"/>
<text x="57.7" y="462.06" font-size="13.2" fill="#111" text-anchor="end" stroke="#111" stroke-width="0.15" textLength="26.94" lengthAdjust="spacingAndGlyphs">0.80</text>
<line x1="61.8" y1="411" x2="66.4" y2="411" stroke="#1e1e1e" stroke-width="1.15"/>
<text x="57.7" y="415.9" font-size="13.2" fill="#111" text-anchor="end" stroke="#111" stroke-width="0.15" textLength="26.94" lengthAdjust="spacingAndGlyphs">0.85</text>
<rect x="66.4" y="379.9" width="406.9" height="263.9" fill="none" stroke="#303030" stroke-width="1.4"/>
<text x="269.85" y="372.3" font-size="17.8" fill="#000" text-anchor="middle" stroke="#000" stroke-width="0.15" textLength="48" lengthAdjust="spacingAndGlyphs">Higgs</text>
<text x="269.85" y="682.3" font-size="17.6" fill="#111" text-anchor="middle" stroke="#111" stroke-width="0.15" textLength="257" lengthAdjust="spacingAndGlyphs">Expected Additive Advantage</text>
<text x="22.4" y="511.85" font-size="17.6" fill="#111" text-anchor="middle" stroke="#111" stroke-width="0.15" textLength="36" lengthAdjust="spacingAndGlyphs" transform="rotate(-90 22.4 511.85)">AUC</text>
<polyline points="84.89,572.5 85.44,524.5 88.88,488.5 104.78,447.5 131.15,423.5 230.73,408.5 312.7,402.8 328.4,401.6 328.4,401.2 328.4,402.8" fill="none" stroke="#26408a" stroke-width="1.8" stroke-linejoin="round" stroke-linecap="butt"/>
<circle cx="84.89" cy="572.5" r="3.9" fill="#23449c" stroke="#23449c" stroke-width="1" stroke-linejoin="miter"/>
<circle cx="85.44" cy="524.5" r="3.9" fill="#23449c" stroke="#23449c" stroke-width="1" stroke-linejoin="miter"/>
<circle cx="88.88" cy="488.5" r="3.9" fill="#23449c" stroke="#23449c" stroke-width="1" stroke-linejoin="miter"/>
<circle cx="104.78" cy="447.5" r="3.9" fill="#23449c" stroke="#23449c" stroke-width="1" stroke-linejoin="miter"/>
<circle cx="131.15" cy="423.5" r="3.9" fill="#23449c" stroke="#23449c" stroke-width="1" stroke-linejoin="miter"/>
<circle cx="230.73" cy="408.5" r="3.9" fill="#23449c" stroke="#23449c" stroke-width="1" stroke-linejoin="miter"/>
<circle cx="312.7" cy="402.8" r="3.9" fill="#23449c" stroke="#23449c" stroke-width="1" stroke-linejoin="miter"/>
<circle cx="328.4" cy="401.6" r="3.9" fill="#23449c" stroke="#23449c" stroke-width="1" stroke-linejoin="miter"/>
<circle cx="328.4" cy="401.2" r="3.9" fill="#23449c" stroke="#23449c" stroke-width="1" stroke-linejoin="miter"/>
<circle cx="328.4" cy="402.8" r="3.9" fill="#23449c" stroke="#23449c" stroke-width="1" stroke-linejoin="miter"/>
<polyline points="84.89,576.5 85.4,527.5 88.46,492.5 102.8,451.5 127.02,429.8 174.27,415.7 208.54,412.4 214.13,410.9 214.13,411.2 214.13,411.2" fill="none" stroke="#2d52ac" stroke-width="1.8" stroke-linejoin="round" stroke-linecap="butt"/>
<rect x="80.99" y="572.6" width="7.8" height="7.8" fill="#2c56c2" stroke="#2c56c2" stroke-width="1" stroke-linejoin="miter"/>
<rect x="81.5" y="523.6" width="7.8" height="7.8" fill="#2c56c2" stroke="#2c56c2" stroke-width="1" stroke-linejoin="miter"/>
<rect x="84.56" y="488.6" width="7.8" height="7.8" fill="#2c56c2" stroke="#2c56c2" stroke-width="1" stroke-linejoin="miter"/>
<rect x="98.9" y="447.6" width="7.8" height="7.8" fill="#2c56c2" stroke="#2c56c2" stroke-width="1" stroke-linejoin="miter"/>
<rect x="123.12" y="425.9" width="7.8" height="7.8" fill="#2c56c2" stroke="#2c56c2" stroke-width="1" stroke-linejoin="miter"/>
<rect x="170.37" y="411.8" width="7.8" height="7.8" fill="#2c56c2" stroke="#2c56c2" stroke-width="1" stroke-linejoin="miter"/>
<rect x="204.64" y="408.5" width="7.8" height="7.8" fill="#2c56c2" stroke="#2c56c2" stroke-width="1" stroke-linejoin="miter"/>
<rect x="210.23" y="407" width="7.8" height="7.8" fill="#2c56c2" stroke="#2c56c2" stroke-width="1" stroke-linejoin="miter"/>
<rect x="210.23" y="407.3" width="7.8" height="7.8" fill="#2c56c2" stroke="#2c56c2" stroke-width="1" stroke-linejoin="miter"/>
<rect x="210.23" y="407.3" width="7.8" height="7.8" fill="#2c56c2" stroke="#2c56c2" stroke-width="1" stroke-linejoin="miter"/>
<polyline points="84.89,587 85.36,530.8 87.94,497.5 99.33,458.5 114.65,435.8 126.05,427.3 146.95,422" fill="none" stroke="#4e7fd2" stroke-width="1.8" stroke-linejoin="round" stroke-linecap="butt"/>
<polygon points="84.89,582.7 80.89,590.7 88.89,590.7" fill="#4a80dc" stroke="#4a80dc" stroke-width="1" stroke-linejoin="miter"/>
<polygon points="85.36,526.5 81.36,534.5 89.36,534.5" fill="#4a80dc" stroke="#4a80dc" stroke-width="1" stroke-linejoin="miter"/>
<polygon points="87.94,493.2 83.94,501.2 91.94,501.2" fill="#4a80dc" stroke="#4a80dc" stroke-width="1" stroke-linejoin="miter"/>
<polygon points="99.33,454.2 95.33,462.2 103.33,462.2" fill="#4a80dc" stroke="#4a80dc" stroke-width="1" stroke-linejoin="miter"/>
<polygon points="114.65,431.5 110.65,439.5 118.65,439.5" fill="#4a80dc" stroke="#4a80dc" stroke-width="1" stroke-linejoin="miter"/>
<polygon points="126.05,423 122.05,431 130.05,431" fill="#4a80dc" stroke="#4a80dc" stroke-width="1" stroke-linejoin="miter"/>
<polygon points="146.95,417.7 142.95,425.7 150.95,425.7" fill="#4a80dc" stroke="#4a80dc" stroke-width="1" stroke-linejoin="miter"/>
<polyline points="84.89,595.3 85.28,537.1 87.27,503.9 95.31,468.5 109.95,439.3 114.94,440.6" fill="none" stroke="#6c9fea" stroke-width="1.8" stroke-linejoin="round" stroke-linecap="butt"/>
<polygon points="84.89,590.3 89.59,595.3 84.89,600.3 80.19,595.3" fill="#6b9ef0" stroke="#6b9ef0" stroke-width="1" stroke-linejoin="miter"/>
<polygon points="85.28,532.1 89.98,537.1 85.28,542.1 80.58,537.1" fill="#6b9ef0" stroke="#6b9ef0" stroke-width="1" stroke-linejoin="miter"/>
<polygon points="87.27,498.9 91.97,503.9 87.27,508.9 82.57,503.9" fill="#6b9ef0" stroke="#6b9ef0" stroke-width="1" stroke-linejoin="miter"/>
<polygon points="95.31,463.5 100.01,468.5 95.31,473.5 90.61,468.5" fill="#6b9ef0" stroke="#6b9ef0" stroke-width="1" stroke-linejoin="miter"/>
<polygon points="109.95,434.3 114.65,439.3 109.95,444.3 105.25,439.3" fill="#6b9ef0" stroke="#6b9ef0" stroke-width="1" stroke-linejoin="miter"/>
<polygon points="114.94,435.6 119.64,440.6 114.94,445.6 110.24,440.6" fill="#6b9ef0" stroke="#6b9ef0" stroke-width="1" stroke-linejoin="miter"/>
<polyline points="84.89,616.3 85.15,547.4 86.55,510.8 92.96,475.5 100.91,462.7" fill="none" stroke="#3a63b2" stroke-width="1.8" stroke-linejoin="round" stroke-linecap="butt"/>
<path d="M81.39 612.8L88.39 619.8M81.39 619.8L88.39 612.8" stroke="#3a66b8" stroke-width="1.3"/>
<path d="M81.65 543.9L88.65 550.9M81.65 550.9L88.65 543.9" stroke="#3a66b8" stroke-width="1.3"/>
<path d="M83.05 507.3L90.05 514.3M83.05 514.3L90.05 507.3" stroke="#3a66b8" stroke-width="1.3"/>
<path d="M89.46 472L96.46 479M89.46 479L96.46 472" stroke="#3a66b8" stroke-width="1.3"/>
<path d="M97.41 459.2L104.41 466.2M97.41 466.2L104.41 459.2" stroke="#3a66b8" stroke-width="1.3"/>
<polyline points="84.89,632.1 85.03,556.6 86.06,515.5 88.67,490.5 92.3,482.7" fill="none" stroke="#4d7fcc" stroke-width="1.8" stroke-linejoin="round" stroke-linecap="butt"/>
<path d="M81.19 632.1L88.59 632.1M84.89 628.4L84.89 635.8" stroke="#4a7ccc" stroke-width="1.3"/>
<path d="M81.33 556.6L88.73 556.6M85.03 552.9L85.03 560.3" stroke="#4a7ccc" stroke-width="1.3"/>
<path d="M82.36 515.5L89.76 515.5M86.06 511.8L86.06 519.2" stroke="#4a7ccc" stroke-width="1.3"/>
<path d="M84.97 490.5L92.37 490.5M88.67 486.8L88.67 494.2" stroke="#4a7ccc" stroke-width="1.3"/>
<path d="M88.6 482.7L96 482.7M92.3 479L92.3 486.4" stroke="#4a7ccc" stroke-width="1.3"/>
<polyline points="92.3,482.7 100.91,462.7 114.94,440.6 146.95,422 214.13,411.2 328.4,402.8 454.91,395" fill="none" stroke="#d8141e" stroke-width="2" stroke-linejoin="round" stroke-linecap="butt"/>
<path d="M87.4 477.8L97.2 487.6M87.4 487.6L97.2 477.8" stroke="#dc1620" stroke-width="1.4"/>
<path d="M96.01 457.8L105.81 467.6M96.01 467.6L105.81 457.8" stroke="#dc1620" stroke-width="1.4"/>
<path d="M110.04 435.7L119.84 445.5M110.04 445.5L119.84 435.7" stroke="#dc1620" stroke-width="1.4"/>
<path d="M142.05 417.1L151.85 426.9M142.05 426.9L151.85 417.1" stroke="#dc1620" stroke-width="1.4"/>
<path d="M209.23 406.3L219.03 416.1M209.23 416.1L219.03 406.3" stroke="#dc1620" stroke-width="1.4"/>
<path d="M323.5 397.9L333.3 407.7M323.5 407.7L333.3 397.9" stroke="#dc1620" stroke-width="1.4"/>
<path d="M450.01 390.1L459.81 399.9M450.01 399.9L459.81 390.1" stroke="#dc1620" stroke-width="1.4"/>
<polyline points="85.05,568.3 85.81,521.1 90.64,485 104.68,443.5 157.06,418.9 289.15,401.4 427.73,393 455.06,393 455.06,392 455.06,391.7" fill="none" stroke="#7cf010" stroke-width="2.6" stroke-linejoin="round" stroke-linecap="butt"/>
<polygon points="85.05,562.8 83.71,566.95 79.35,566.95 82.88,569.51 81.53,573.65 85.05,571.09 88.58,573.65 87.23,569.51 90.76,566.95 86.4,566.95" fill="#7cfc00" stroke="#7cfc00" stroke-width="1" stroke-linejoin="miter"/>
<polygon points="85.81,515.6 84.46,519.75 80.1,519.75 83.63,522.31 82.28,526.45 85.81,523.89 89.34,526.45 87.99,522.31 91.52,519.75 87.16,519.75" fill="#7cfc00" stroke="#7cfc00" stroke-width="1" stroke-linejoin="miter"/>
<polygon points="90.64,479.5 89.29,483.65 84.93,483.65 88.46,486.21 87.11,490.35 90.64,487.79 94.17,490.35 92.82,486.21 96.35,483.65 91.99,483.65" fill="#7cfc00" stroke="#7cfc00" stroke-width="1" stroke-linejoin="miter"/>
<polygon points="104.68,438 103.33,442.15 98.97,442.15 102.5,444.71 101.15,448.85 104.68,446.29 108.21,448.85 106.86,444.71 110.39,442.15 106.03,442.15" fill="#7cfc00" stroke="#7cfc00" stroke-width="1" stroke-linejoin="miter"/>
<polygon points="157.06,413.4 155.72,417.55 151.36,417.55 154.88,420.11 153.54,424.25 157.06,421.69 160.59,424.25 159.24,420.11 162.77,417.55 158.41,417.55" fill="#7cfc00" stroke="#7cfc00" stroke-width="1" stroke-linejoin="miter"/>
<polygon points="289.15,395.9 287.81,400.05 283.45,400.05 286.97,402.61 285.63,406.75 289.15,404.19 292.68,406.75 291.33,402.61 294.86,400.05 290.5,400.05" fill="#7cfc00" stroke="#7cfc00" stroke-width="1" stroke-linejoin="miter"/>
<polygon points="427.73,387.5 426.39,391.65 422.03,391.65 425.55,394.21 424.21,398.35 427.73,395.79 431.26,398.35 429.91,394.21 433.44,391.65 429.08,391.65" fill="#7cfc00" stroke="#7cfc00" stroke-width="1" stroke-linejoin="miter"/>
<polygon points="455.06,387.5 453.71,391.65 449.35,391.65 452.88,394.21 451.53,398.35 455.06,395.79 458.58,398.35 457.24,394.21 460.76,391.65 456.4,391.65" fill="#7cfc00" stroke="#7cfc00" stroke-width="1" stroke-linejoin="miter"/>
<polygon points="455.06,386.5 453.71,390.65 449.35,390.65 452.88,393.21 451.53,397.35 455.06,394.79 458.58,397.35 457.24,393.21 460.76,390.65 456.4,390.65" fill="#7cfc00" stroke="#7cfc00" stroke-width="1" stroke-linejoin="miter"/>
<polygon points="455.06,386.2 453.71,390.35 449.35,390.35 452.88,392.91 451.53,397.05 455.06,394.49 458.58,397.05 457.24,392.91 460.76,390.35 456.4,390.35" fill="#7cfc00" stroke="#7cfc00" stroke-width="1" stroke-linejoin="miter"/>
<line x1="80.8" y1="454.7" x2="81.96" y2="475.01" stroke="#00c400" stroke-width="1.5"/>
<polygon points="82.44,483.3 76.74,473.01 81.94,474.51 86.92,472.42" fill="#00c400"/>
<text x="67.9" y="452" font-size="14.3" fill="#26ad26" text-anchor="start" stroke="#26ad26" stroke-width="0.15" textLength="23.6" lengthAdjust="spacingAndGlyphs">ϵ=1</text>
<line x1="92.5" y1="416.5" x2="100.14" y2="429.9" stroke="#00c400" stroke-width="1.5"/>
<polygon points="104.25,437.11 94.57,430.42 99.89,429.46 103.43,425.37" fill="#00c400"/>
<text x="79" y="413.6" font-size="14.3" fill="#26ad26" text-anchor="start" stroke="#26ad26" stroke-width="0.15" textLength="23.6" lengthAdjust="spacingAndGlyphs">ϵ=2</text>
<line x1="142.5" y1="395.7" x2="150.3" y2="406.7" stroke="#00c400" stroke-width="1.5"/>
<polygon points="155.1,413.47 144.81,407.78 150.01,406.29 153.13,401.87" fill="#00c400"/>
<text x="129.8" y="393.6" font-size="14.3" fill="#26ad26" text-anchor="start" stroke="#26ad26" stroke-width="0.15" textLength="23.6" lengthAdjust="spacingAndGlyphs">ϵ=4</text>
<line x1="456.3" y1="427.1" x2="456.3" y2="409.6" stroke="#000" stroke-width="1.5"/>
<polygon points="456.3,401.3 461.4,411.9 456.3,410.1 451.2,411.9" fill="#000"/>
<text x="439.6" y="441.9" font-size="14.3" fill="#26ad26" text-anchor="start" stroke="#26ad26" stroke-width="0.15" textLength="32.3" lengthAdjust="spacingAndGlyphs">ϵ=32</text>
<text x="443.5" y="460.6" font-size="14.3" fill="#d82020" text-anchor="start" stroke="#d82020" stroke-width="0.15" textLength="24.5" lengthAdjust="spacingAndGlyphs">k=1</text>
<line x1="147.5" y1="453.7" x2="133.82" y2="448.02" stroke="#ff0000" stroke-width="1.5"/>
<polygon points="126.15,444.83 137.9,444.19 134.28,448.21 133.99,453.61" fill="#ff0000"/>
<text x="149.1" y="458" font-size="14.3" fill="#d82020" text-anchor="start" stroke="#d82020" stroke-width="0.15" textLength="32.9" lengthAdjust="spacingAndGlyphs">k=16</text>
<line x1="125.2" y1="479.3" x2="115.89" y2="472.97" stroke="#ff0000" stroke-width="1.5"/>
<polygon points="109.02,468.31 120.65,470.05 116.3,473.25 114.92,478.48" fill="#ff0000"/>
<text x="128.7" y="494.1" font-size="14.3" fill="#d82020" text-anchor="start" stroke="#d82020" stroke-width="0.15" textLength="33.5" lengthAdjust="spacingAndGlyphs">k=32</text>
<line x1="112.9" y1="516.3" x2="104.11" y2="499.99" stroke="#ff0000" stroke-width="1.5"/>
<polygon points="100.17,492.68 109.69,499.59 104.34,500.43 100.71,504.43" fill="#ff0000"/>
<text x="95.8" y="533.6" font-size="14.3" fill="#d82020" text-anchor="start" stroke="#d82020" stroke-width="0.15" textLength="33.5" lengthAdjust="spacingAndGlyphs">k=64</text>
<rect x="482.5" y="406.1" width="167.3" height="211.1" rx="2.5" fill="#fff" stroke="#d9d9d9" stroke-width="1"/>
<line x1="488.3" y1="420.7" x2="525.3" y2="420.7" stroke="#26408a" stroke-width="1.8"/>
<circle cx="506.9" cy="420.7" r="3.9" fill="#23449c" stroke="#23449c" stroke-width="1" stroke-linejoin="miter"/>
<text x="539.3" y="427" font-size="17.6" fill="#111" text-anchor="start" stroke="#111" stroke-width="0.15" textLength="92" lengthAdjust="spacingAndGlyphs">Geom k=2</text>
<line x1="488.3" y1="446.4" x2="525.3" y2="446.4" stroke="#2d52ac" stroke-width="1.8"/>
<rect x="503" y="442.5" width="7.8" height="7.8" fill="#2c56c2" stroke="#2c56c2" stroke-width="1" stroke-linejoin="miter"/>
<text x="539.3" y="452.7" font-size="17.6" fill="#111" text-anchor="start" stroke="#111" stroke-width="0.15" textLength="92" lengthAdjust="spacingAndGlyphs">Geom k=4</text>
<line x1="488.3" y1="472.1" x2="525.3" y2="472.1" stroke="#4e7fd2" stroke-width="1.8"/>
<polygon points="506.9,467.8 502.9,475.8 510.9,475.8" fill="#4a80dc" stroke="#4a80dc" stroke-width="1" stroke-linejoin="miter"/>
<text x="539.3" y="478.4" font-size="17.6" fill="#111" text-anchor="start" stroke="#111" stroke-width="0.15" textLength="92" lengthAdjust="spacingAndGlyphs">Geom k=8</text>
<line x1="488.3" y1="497.8" x2="525.3" y2="497.8" stroke="#6c9fea" stroke-width="1.8"/>
<polygon points="506.9,492.8 511.6,497.8 506.9,502.8 502.2,497.8" fill="#6b9ef0" stroke="#6b9ef0" stroke-width="1" stroke-linejoin="miter"/>
<text x="539.3" y="504.1" font-size="17.6" fill="#111" text-anchor="start" stroke="#111" stroke-width="0.15" textLength="105" lengthAdjust="spacingAndGlyphs">Geom k=16</text>
<line x1="488.3" y1="523.4" x2="525.3" y2="523.4" stroke="#3a63b2" stroke-width="1.8"/>
<path d="M503.4 519.9L510.4 526.9M503.4 526.9L510.4 519.9" stroke="#3a66b8" stroke-width="1.3"/>
<text x="539.3" y="529.7" font-size="17.6" fill="#111" text-anchor="start" stroke="#111" stroke-width="0.15" textLength="105" lengthAdjust="spacingAndGlyphs">Geom k=32</text>
<line x1="488.3" y1="549.1" x2="525.3" y2="549.1" stroke="#4d7fcc" stroke-width="1.8"/>
<path d="M503.2 549.1L510.6 549.1M506.9 545.4L506.9 552.8" stroke="#4a7ccc" stroke-width="1.3"/>
<text x="539.3" y="555.4" font-size="17.6" fill="#111" text-anchor="start" stroke="#111" stroke-width="0.15" textLength="105" lengthAdjust="spacingAndGlyphs">Geom k=64</text>
<line x1="488.3" y1="574.8" x2="525.3" y2="574.8" stroke="#d8141e" stroke-width="2"/>
<path d="M502 569.9L511.8 579.7M502 579.7L511.8 569.9" stroke="#dc1620" stroke-width="1.4"/>
<text x="539.3" y="581.1" font-size="17.6" fill="#111" text-anchor="start" stroke="#111" stroke-width="0.15" textLength="31" lengthAdjust="spacingAndGlyphs">LLP</text>
<line x1="488.3" y1="600.6" x2="525.3" y2="600.6" stroke="#7cf010" stroke-width="2.6"/>
<polygon points="506.9,595.1 505.55,599.25 501.19,599.25 504.72,601.81 503.37,605.95 506.9,603.39 510.43,605.95 509.08,601.81 512.61,599.25 508.25,599.25" fill="#7cfc00" stroke="#7cfc00" stroke-width="1" stroke-linejoin="miter"/>
<text x="539.3" y="606.9" font-size="17.6" fill="#111" text-anchor="start" stroke="#111" stroke-width="0.15" textLength="24" lengthAdjust="spacingAndGlyphs">RR</text>
<line x1="753" y1="642.8" x2="753" y2="647.4" stroke="#1e1e1e" stroke-width="1.15"/>
<text x="753" y="661.2" font-size="13.2" fill="#111" text-anchor="middle" stroke="#111" stroke-width="0.15" textLength="26.94" lengthAdjust="spacingAndGlyphs">0.00</text>
<line x1="829.38" y1="642.8" x2="829.38" y2="647.4" stroke="#1e1e1e" stroke-width="1.15"/>
<text x="829.38" y="661.2" font-size="13.2" fill="#111" text-anchor="middle" stroke="#111" stroke-width="0.15" textLength="26.94" lengthAdjust="spacingAndGlyphs">0.02</text>
<line x1="905.76" y1="642.8" x2="905.76" y2="647.4" stroke="#1e1e1e" stroke-width="1.15"/>
<text x="905.76" y="661.2" font-size="13.2" fill="#111" text-anchor="middle" stroke="#111" stroke-width="0.15" textLength="26.94" lengthAdjust="spacingAndGlyphs">0.04</text>
<line x1="982.14" y1="642.8" x2="982.14" y2="647.4" stroke="#1e1e1e" stroke-width="1.15"/>
<text x="982.14" y="661.2" font-size="13.2" fill="#111" text-anchor="middle" stroke="#111" stroke-width="0.15" textLength="26.94" lengthAdjust="spacingAndGlyphs">0.06</text>
<line x1="1058.52" y1="642.8" x2="1058.52" y2="647.4" stroke="#1e1e1e" stroke-width="1.15"/>
<text x="1058.52" y="661.2" font-size="13.2" fill="#111" text-anchor="middle" stroke="#111" stroke-width="0.15" textLength="26.94" lengthAdjust="spacingAndGlyphs">0.08</text>
<line x1="1134.9" y1="642.8" x2="1134.9" y2="647.4" stroke="#1e1e1e" stroke-width="1.15"/>
<text x="1134.9" y="661.2" font-size="13.2" fill="#111" text-anchor="middle" stroke="#111" stroke-width="0.15" textLength="26.94" lengthAdjust="spacingAndGlyphs">0.10</text>
<line x1="730.4" y1="637.7" x2="735" y2="637.7" stroke="#1e1e1e" stroke-width="1.15"/>
<text x="726.3" y="642.6" font-size="13.2" fill="#111" text-anchor="end" stroke="#111" stroke-width="0.15" textLength="26.94" lengthAdjust="spacingAndGlyphs">0.60</text>
<line x1="730.4" y1="607.99" x2="735" y2="607.99" stroke="#1e1e1e" stroke-width="1.15"/>
<text x="726.3" y="612.89" font-size="13.2" fill="#111" text-anchor="end" stroke="#111" stroke-width="0.15" textLength="26.94" lengthAdjust="spacingAndGlyphs">0.62</text>
<line x1="730.4" y1="578.27" x2="735" y2="578.27" stroke="#1e1e1e" stroke-width="1.15"/>
<text x="726.3" y="583.17" font-size="13.2" fill="#111" text-anchor="end" stroke="#111" stroke-width="0.15" textLength="26.94" lengthAdjust="spacingAndGlyphs">0.64</text>
<line x1="730.4" y1="548.56" x2="735" y2="548.56" stroke="#1e1e1e" stroke-width="1.15"/>
<text x="726.3" y="553.46" font-size="13.2" fill="#111" text-anchor="end" stroke="#111" stroke-width="0.15" textLength="26.94" lengthAdjust="spacingAndGlyphs">0.66</text>
<line x1="730.4" y1="518.85" x2="735" y2="518.85" stroke="#1e1e1e" stroke-width="1.15"/>
<text x="726.3" y="523.75" font-size="13.2" fill="#111" text-anchor="end" stroke="#111" stroke-width="0.15" textLength="26.94" lengthAdjust="spacingAndGlyphs">0.68</text>
<line x1="730.4" y1="489.14" x2="735" y2="489.14" stroke="#1e1e1e" stroke-width="1.15"/>
<text x="726.3" y="494.04" font-size="13.2" fill="#111" text-anchor="end" stroke="#111" stroke-width="0.15" textLength="26.94" lengthAdjust="spacingAndGlyphs">0.70</text>
<line x1="730.4" y1="459.43" x2="735" y2="459.43" stroke="#1e1e1e" stroke-width="1.15"/>
<text x="726.3" y="464.33" font-size="13.2" fill="#111" text-anchor="end" stroke="#111" stroke-width="0.15" textLength="26.94" lengthAdjust="spacingAndGlyphs">0.72</text>
<line x1="730.4" y1="429.71" x2="735" y2="429.71" stroke="#1e1e1e" stroke-width="1.15"/>
<text x="726.3" y="434.61" font-size="13.2" fill="#111" text-anchor="end" stroke="#111" stroke-width="0.15" textLength="26.94" lengthAdjust="spacingAndGlyphs">0.74</text>
<line x1="730.4" y1="400" x2="735" y2="400" stroke="#1e1e1e" stroke-width="1.15"/>
<text x="726.3" y="404.9" font-size="13.2" fill="#111" text-anchor="end" stroke="#111" stroke-width="0.15" textLength="26.94" lengthAdjust="spacingAndGlyphs">0.76</text>
<rect x="735" y="378.8" width="407.2" height="264" fill="none" stroke="#6e6e6e" stroke-width="1.8"/>
<text x="938.6" y="371.2" font-size="17.8" fill="#000" text-anchor="middle" stroke="#000" stroke-width="0.15" textLength="58" lengthAdjust="spacingAndGlyphs">KDD12</text>
<text x="938.6" y="681.3" font-size="17.6" fill="#111" text-anchor="middle" stroke="#111" stroke-width="0.15" textLength="257" lengthAdjust="spacingAndGlyphs">Expected Additive Advantage</text>
<text x="691" y="510.8" font-size="17.6" fill="#111" text-anchor="middle" stroke="#111" stroke-width="0.15" textLength="36" lengthAdjust="spacingAndGlyphs" transform="rotate(-90 691 510.8)">AUC</text>
<polyline points="753,571.3 753.22,521.3 753.44,491.3 755.11,465.3 755.64,440.3 772.86,416.6 840.84,400.3 869.48,396.9 869.48,396.9 869.48,396.2" fill="none" stroke="#26408a" stroke-width="1.8" stroke-linejoin="round" stroke-linecap="butt"/>
<circle cx="753" cy="571.3" r="3.9" fill="#23449c" stroke="#23449c" stroke-width="1" stroke-linejoin="miter"/>
<circle cx="753.22" cy="521.3" r="3.9" fill="#23449c" stroke="#23449c" stroke-width="1" stroke-linejoin="miter"/>
<circle cx="753.44" cy="491.3" r="3.9" fill="#23449c" stroke="#23449c" stroke-width="1" stroke-linejoin="miter"/>
<circle cx="755.11" cy="465.3" r="3.9" fill="#23449c" stroke="#23449c" stroke-width="1" stroke-linejoin="miter"/>
<circle cx="755.64" cy="440.3" r="3.9" fill="#23449c" stroke="#23449c" stroke-width="1" stroke-linejoin="miter"/>
<circle cx="772.86" cy="416.6" r="3.9" fill="#23449c" stroke="#23449c" stroke-width="1" stroke-linejoin="miter"/>
<circle cx="840.84" cy="400.3" r="3.9" fill="#23449c" stroke="#23449c" stroke-width="1" stroke-linejoin="miter"/>
<circle cx="869.48" cy="396.9" r="3.9" fill="#23449c" stroke="#23449c" stroke-width="1" stroke-linejoin="miter"/>
<circle cx="869.48" cy="396.9" r="3.9" fill="#23449c" stroke="#23449c" stroke-width="1" stroke-linejoin="miter"/>
<circle cx="869.48" cy="396.2" r="3.9" fill="#23449c" stroke="#23449c" stroke-width="1" stroke-linejoin="miter"/>
<polyline points="753,575.1 753.2,525.3 753.41,495.3 754.9,468.3 755.09,443.3 760.14,423.6 780.5,406.4 785.84,404.7 785.84,405 785.84,405" fill="none" stroke="#2d52ac" stroke-width="1.8" stroke-linejoin="round" stroke-linecap="butt"/>
<rect x="749.1" y="571.2" width="7.8" height="7.8" fill="#2c56c2" stroke="#2c56c2" stroke-width="1" stroke-linejoin="miter"/>
<rect x="749.3" y="521.4" width="7.8" height="7.8" fill="#2c56c2" stroke="#2c56c2" stroke-width="1" stroke-linejoin="miter"/>
<rect x="749.51" y="491.4" width="7.8" height="7.8" fill="#2c56c2" stroke="#2c56c2" stroke-width="1" stroke-linejoin="miter"/>
<rect x="751" y="464.4" width="7.8" height="7.8" fill="#2c56c2" stroke="#2c56c2" stroke-width="1" stroke-linejoin="miter"/>
<rect x="751.19" y="439.4" width="7.8" height="7.8" fill="#2c56c2" stroke="#2c56c2" stroke-width="1" stroke-linejoin="miter"/>
<rect x="756.24" y="419.7" width="7.8" height="7.8" fill="#2c56c2" stroke="#2c56c2" stroke-width="1" stroke-linejoin="miter"/>
<rect x="776.6" y="402.5" width="7.8" height="7.8" fill="#2c56c2" stroke="#2c56c2" stroke-width="1" stroke-linejoin="miter"/>
<rect x="781.94" y="400.8" width="7.8" height="7.8" fill="#2c56c2" stroke="#2c56c2" stroke-width="1" stroke-linejoin="miter"/>
<rect x="781.94" y="401.1" width="7.8" height="7.8" fill="#2c56c2" stroke="#2c56c2" stroke-width="1" stroke-linejoin="miter"/>
<rect x="781.94" y="401.1" width="7.8" height="7.8" fill="#2c56c2" stroke="#2c56c2" stroke-width="1" stroke-linejoin="miter"/>
<polyline points="753,587.9 753.17,531.3 753.38,500.3 754.63,472.3 754.54,446.3 758.5,426.5 762.93,416.5 762.93,414.8 762.93,415.2 762.93,415.2" fill="none" stroke="#4e7fd2" stroke-width="1.8" stroke-linejoin="round" stroke-linecap="butt"/>
<polygon points="753,583.6 749,591.6 757,591.6" fill="#4a80dc" stroke="#4a80dc" stroke-width="1" stroke-linejoin="miter"/>
<polygon points="753.17,527 749.17,535 757.17,535" fill="#4a80dc" stroke="#4a80dc" stroke-width="1" stroke-linejoin="miter"/>
<polygon points="753.38,496 749.38,504 757.38,504" fill="#4a80dc" stroke="#4a80dc" stroke-width="1" stroke-linejoin="miter"/>
<polygon points="754.63,468 750.63,476 758.63,476" fill="#4a80dc" stroke="#4a80dc" stroke-width="1" stroke-linejoin="miter"/>
<polygon points="754.54,442 750.54,450 758.54,450" fill="#4a80dc" stroke="#4a80dc" stroke-width="1" stroke-linejoin="miter"/>
<polygon points="758.5,422.2 754.5,430.2 762.5,430.2" fill="#4a80dc" stroke="#4a80dc" stroke-width="1" stroke-linejoin="miter"/>
<polygon points="762.93,412.2 758.93,420.2 766.93,420.2" fill="#4a80dc" stroke="#4a80dc" stroke-width="1" stroke-linejoin="miter"/>
<polygon points="762.93,410.5 758.93,418.5 766.93,418.5" fill="#4a80dc" stroke="#4a80dc" stroke-width="1" stroke-linejoin="miter"/>
<polygon points="762.93,410.9 758.93,418.9 766.93,418.9" fill="#4a80dc" stroke="#4a80dc" stroke-width="1" stroke-linejoin="miter"/>
<polygon points="762.93,410.9 758.93,418.9 766.93,418.9" fill="#4a80dc" stroke="#4a80dc" stroke-width="1" stroke-linejoin="miter"/>
<polyline points="753,597.9 753.07,550 753.31,509.3 754.15,479.3 753.62,451.3 756.6,435.1 757.2,428 757.2,427.3 757.2,426.9 757.2,427.3" fill="none" stroke="#6c9fea" stroke-width="1.8" stroke-linejoin="round" stroke-linecap="butt"/>
<polygon points="753,592.9 757.7,597.9 753,602.9 748.3,597.9" fill="#6b9ef0" stroke="#6b9ef0" stroke-width="1" stroke-linejoin="miter"/>
<polygon points="753.07,545 757.77,550 753.07,555 748.37,550" fill="#6b9ef0" stroke="#6b9ef0" stroke-width="1" stroke-linejoin="miter"/>
<polygon points="753.31,504.3 758.01,509.3 753.31,514.3 748.61,509.3" fill="#6b9ef0" stroke="#6b9ef0" stroke-width="1" stroke-linejoin="miter"/>
<polygon points="754.15,474.3 758.85,479.3 754.15,484.3 749.45,479.3" fill="#6b9ef0" stroke="#6b9ef0" stroke-width="1" stroke-linejoin="miter"/>
<polygon points="753.62,446.3 758.32,451.3 753.62,456.3 748.92,451.3" fill="#6b9ef0" stroke="#6b9ef0" stroke-width="1" stroke-linejoin="miter"/>
<polygon points="756.6,430.1 761.3,435.1 756.6,440.1 751.9,435.1" fill="#6b9ef0" stroke="#6b9ef0" stroke-width="1" stroke-linejoin="miter"/>
<polygon points="757.2,423 761.9,428 757.2,433 752.5,428" fill="#6b9ef0" stroke="#6b9ef0" stroke-width="1" stroke-linejoin="miter"/>
<polygon points="757.2,422.3 761.9,427.3 757.2,432.3 752.5,427.3" fill="#6b9ef0" stroke="#6b9ef0" stroke-width="1" stroke-linejoin="miter"/>
<polygon points="757.2,421.9 761.9,426.9 757.2,431.9 752.5,426.9" fill="#6b9ef0" stroke="#6b9ef0" stroke-width="1" stroke-linejoin="miter"/>
<polygon points="757.2,422.3 761.9,427.3 757.2,432.3 752.5,427.3" fill="#6b9ef0" stroke="#6b9ef0" stroke-width="1" stroke-linejoin="miter"/>
<polyline points="753,612.3 753.03,557.9 753.23,519.3 753.67,486.3 753.46,456.3 754.56,446.2 754.91,442.6 754.91,442.2 754.91,441.8 754.91,442.2" fill="none" stroke="#3a63b2" stroke-width="1.8" stroke-linejoin="round" stroke-linecap="butt"/>
<path d="M749.5 608.8L756.5 615.8M749.5 615.8L756.5 608.8" stroke="#3a66b8" stroke-width="1.3"/>
<path d="M749.53 554.4L756.53 561.4M749.53 561.4L756.53 554.4" stroke="#3a66b8" stroke-width="1.3"/>
<path d="M749.73 515.8L756.73 522.8M749.73 522.8L756.73 515.8" stroke="#3a66b8" stroke-width="1.3"/>
<path d="M750.17 482.8L757.17 489.8M750.17 489.8L757.17 482.8" stroke="#3a66b8" stroke-width="1.3"/>
<path d="M749.96 452.8L756.96 459.8M749.96 459.8L756.96 452.8" stroke="#3a66b8" stroke-width="1.3"/>
<path d="M751.06 442.7L758.06 449.7M751.06 449.7L758.06 442.7" stroke="#3a66b8" stroke-width="1.3"/>
<path d="M751.41 439.1L758.41 446.1M751.41 446.1L758.41 439.1" stroke="#3a66b8" stroke-width="1.3"/>
<path d="M751.41 438.7L758.41 445.7M751.41 445.7L758.41 438.7" stroke="#3a66b8" stroke-width="1.3"/>
<path d="M751.41 438.3L758.41 445.3M751.41 445.3L758.41 438.3" stroke="#3a66b8" stroke-width="1.3"/>
<path d="M751.41 438.7L758.41 445.7M751.41 445.7L758.41 438.7" stroke="#3a66b8" stroke-width="1.3"/>
<polyline points="753,630.9 753,569.3 753,529.3 753,494.3 753,464.3 753,454.7" fill="none" stroke="#4d7fcc" stroke-width="1.8" stroke-linejoin="round" stroke-linecap="butt"/>
<path d="M749.3 630.9L756.7 630.9M753 627.2L753 634.6" stroke="#4a7ccc" stroke-width="1.3"/>
<path d="M749.3 569.3L756.7 569.3M753 565.6L753 573" stroke="#4a7ccc" stroke-width="1.3"/>
<path d="M749.3 529.3L756.7 529.3M753 525.6L753 533" stroke="#4a7ccc" stroke-width="1.3"/>
<path d="M749.3 494.3L756.7 494.3M753 490.6L753 498" stroke="#4a7ccc" stroke-width="1.3"/>
<path d="M749.3 464.3L756.7 464.3M753 460.6L753 468" stroke="#4a7ccc" stroke-width="1.3"/>
<path d="M749.3 454.7L756.7 454.7M753 451L753 458.4" stroke="#4a7ccc" stroke-width="1.3"/>
<polyline points="753,454.7 754.91,442.2 757.2,427.3 762.93,415.2 785.84,405 869.48,396.2 1122.3,390.3" fill="none" stroke="#d8141e" stroke-width="2" stroke-linejoin="round" stroke-linecap="butt"/>
<path d="M748.1 449.8L757.9 459.6M748.1 459.6L757.9 449.8" stroke="#dc1620" stroke-width="1.4"/>
<path d="M750.01 437.3L759.81 447.1M750.01 447.1L759.81 437.3" stroke="#dc1620" stroke-width="1.4"/>
<path d="M752.3 422.4L762.1 432.2M752.3 432.2L762.1 422.4" stroke="#dc1620" stroke-width="1.4"/>
<path d="M758.03 410.3L767.83 420.1M758.03 420.1L767.83 410.3" stroke="#dc1620" stroke-width="1.4"/>
<path d="M780.94 400.1L790.74 409.9M780.94 409.9L790.74 400.1" stroke="#dc1620" stroke-width="1.4"/>
<path d="M864.58 391.3L874.38 401.1M864.58 401.1L874.38 391.3" stroke="#dc1620" stroke-width="1.4"/>
<path d="M1117.4 385.4L1127.2 395.2M1117.4 395.2L1127.2 385.4" stroke="#dc1620" stroke-width="1.4"/>
<polyline points="753,563.6 753.19,519.4 753.38,489.4 754.91,462.6 758.73,438.2 788.13,415.1 1055.08,394.9 1122.3,390.1 1122.3,390.1 1122.3,390.5" fill="none" stroke="#7cf010" stroke-width="2.6" stroke-linejoin="round" stroke-linecap="butt"/>
<polygon points="753,558.1 751.65,562.25 747.29,562.25 750.82,564.81 749.47,568.95 753,566.39 756.53,568.95 755.18,564.81 758.71,562.25 754.35,562.25" fill="#7cfc00" stroke="#7cfc00" stroke-width="1" stroke-linejoin="miter"/>
<polygon points="753.19,513.9 751.84,518.05 747.48,518.05 751.01,520.61 749.66,524.75 753.19,522.19 756.72,524.75 755.37,520.61 758.9,518.05 754.54,518.05" fill="#7cfc00" stroke="#7cfc00" stroke-width="1" stroke-linejoin="miter"/>
<polygon points="753.38,483.9 752.03,488.05 747.68,488.05 751.2,490.61 749.86,494.75 753.38,492.19 756.91,494.75 755.56,490.61 759.09,488.05 754.73,488.05" fill="#7cfc00" stroke="#7cfc00" stroke-width="1" stroke-linejoin="miter"/>
<polygon points="754.91,457.1 753.56,461.25 749.2,461.25 752.73,463.81 751.38,467.95 754.91,465.39 758.44,467.95 757.09,463.81 760.62,461.25 756.26,461.25" fill="#7cfc00" stroke="#7cfc00" stroke-width="1" stroke-linejoin="miter"/>
<polygon points="758.73,432.7 757.38,436.85 753.02,436.85 756.55,439.41 755.2,443.55 758.73,440.99 762.26,443.55 760.91,439.41 764.43,436.85 760.08,436.85" fill="#7cfc00" stroke="#7cfc00" stroke-width="1" stroke-linejoin="miter"/>
<polygon points="788.13,409.6 786.79,413.75 782.43,413.75 785.96,416.31 784.61,420.45 788.13,417.89 791.66,420.45 790.31,416.31 793.84,413.75 789.48,413.75" fill="#7cfc00" stroke="#7cfc00" stroke-width="1" stroke-linejoin="miter"/>
<polygon points="1055.08,389.4 1053.74,393.55 1049.38,393.55 1052.9,396.11 1051.56,400.25 1055.08,397.69 1058.61,400.25 1057.26,396.11 1060.79,393.55 1056.43,393.55" fill="#7cfc00" stroke="#7cfc00" stroke-width="1" stroke-linejoin="miter"/>
<polygon points="1122.3,384.6 1120.95,388.75 1116.59,388.75 1120.12,391.31 1118.77,395.45 1122.3,392.89 1125.82,395.45 1124.48,391.31 1128,388.75 1123.64,388.75" fill="#7cfc00" stroke="#7cfc00" stroke-width="1" stroke-linejoin="miter"/>
<polygon points="1122.3,384.6 1120.95,388.75 1116.59,388.75 1120.12,391.31 1118.77,395.45 1122.3,392.89 1125.82,395.45 1124.48,391.31 1128,388.75 1123.64,388.75" fill="#7cfc00" stroke="#7cfc00" stroke-width="1" stroke-linejoin="miter"/>
<polygon points="1122.3,385 1120.95,389.15 1116.59,389.15 1120.12,391.71 1118.77,395.85 1122.3,393.29 1125.82,395.85 1124.48,391.71 1128,389.15 1123.64,389.15" fill="#7cfc00" stroke="#7cfc00" stroke-width="1" stroke-linejoin="miter"/>
<line x1="815.8" y1="426.9" x2="776.9" y2="426.9" stroke="#ff0000" stroke-width="1.5"/>
<polygon points="768.6,426.9 779.2,421.8 777.4,426.9 779.2,432" fill="#ff0000"/>
<text x="816.7" y="431.2" font-size="14.3" fill="#d82020" text-anchor="start" stroke="#d82020" stroke-width="0.15" textLength="34.3" lengthAdjust="spacingAndGlyphs">k=16</text>
<line x1="790.1" y1="438.4" x2="779.1" y2="438.4" stroke="#00c400" stroke-width="1.5"/>
<polygon points="770.8,438.4 781.4,433.3 779.6,438.4 781.4,443.5" fill="#00c400"/>
<text x="789.5" y="443.1" font-size="14.3" fill="#26ad26" text-anchor="start" stroke="#26ad26" stroke-width="0.15" textLength="24.3" lengthAdjust="spacingAndGlyphs">ϵ=4</text>
<line x1="828" y1="445.5" x2="772.6" y2="445.5" stroke="#ff0000" stroke-width="1.5"/>
<polygon points="764.3,445.5 774.9,440.4 773.1,445.5 774.9,450.6" fill="#ff0000"/>
<text x="828.8" y="450.2" font-size="14.3" fill="#d82020" text-anchor="start" stroke="#d82020" stroke-width="0.15" textLength="33.6" lengthAdjust="spacingAndGlyphs">k=32</text>
<line x1="866.6" y1="457" x2="766.2" y2="457" stroke="#ff0000" stroke-width="1.5"/>
<polygon points="757.9,457 768.5,451.9 766.7,457 768.5,462.1" fill="#ff0000"/>
<text x="866.7" y="461.7" font-size="14.3" fill="#d82020" text-anchor="start" stroke="#d82020" stroke-width="0.15" textLength="34.6" lengthAdjust="spacingAndGlyphs">k=64</text>
<line x1="792.2" y1="467.4" x2="771.9" y2="467.4" stroke="#00c400" stroke-width="1.5"/>
<polygon points="763.6,467.4 774.2,462.3 772.4,467.4 774.2,472.5" fill="#00c400"/>
<text x="792.3" y="471.7" font-size="14.3" fill="#26ad26" text-anchor="start" stroke="#26ad26" stroke-width="0.15" textLength="24.3" lengthAdjust="spacingAndGlyphs">ϵ=2</text>
<line x1="785.8" y1="490.4" x2="766.2" y2="490.4" stroke="#00c400" stroke-width="1.5"/>
<polygon points="757.9,490.4 768.5,485.3 766.7,490.4 768.5,495.5" fill="#00c400"/>
<text x="785.2" y="495.1" font-size="14.3" fill="#26ad26" text-anchor="start" stroke="#26ad26" stroke-width="0.15" textLength="24.3" lengthAdjust="spacingAndGlyphs">ϵ=1</text>
<line x1="1125.6" y1="425.3" x2="1125.6" y2="408.7" stroke="#000" stroke-width="1.5"/>
<polygon points="1125.6,400.4 1130.7,411 1125.6,409.2 1120.5,411" fill="#000"/>
<text x="1108.1" y="440.1" font-size="14.3" fill="#26ad26" text-anchor="start" stroke="#26ad26" stroke-width="0.15" textLength="32.4" lengthAdjust="spacingAndGlyphs">ϵ=32</text>
<text x="1111.7" y="459.6" font-size="14.3" fill="#d82020" text-anchor="start" stroke="#d82020" stroke-width="0.15" textLength="25.2" lengthAdjust="spacingAndGlyphs">k=1</text>
<rect x="1151" y="405.3" width="167.6" height="211" rx="2.5" fill="#fff" stroke="#d9d9d9" stroke-width="1"/>
<line x1="1156.8" y1="419.9" x2="1193.8" y2="419.9" stroke="#26408a" stroke-width="1.8"/>
<circle cx="1175.4" cy="419.9" r="3.9" fill="#23449c" stroke="#23449c" stroke-width="1" stroke-linejoin="miter"/>
<text x="1207.8" y="426.2" font-size="17.6" fill="#111" text-anchor="start" stroke="#111" stroke-width="0.15" textLength="92" lengthAdjust="spacingAndGlyphs">Geom k=2</text>
<line x1="1156.8" y1="445.6" x2="1193.8" y2="445.6" stroke="#2d52ac" stroke-width="1.8"/>
<rect x="1171.5" y="441.7" width="7.8" height="7.8" fill="#2c56c2" stroke="#2c56c2" stroke-width="1" stroke-linejoin="miter"/>
<text x="1207.8" y="451.9" font-size="17.6" fill="#111" text-anchor="start" stroke="#111" stroke-width="0.15" textLength="92" lengthAdjust="spacingAndGlyphs">Geom k=4</text>
<line x1="1156.8" y1="471.3" x2="1193.8" y2="471.3" stroke="#4e7fd2" stroke-width="1.8"/>
<polygon points="1175.4,467 1171.4,475 1179.4,475" fill="#4a80dc" stroke="#4a80dc" stroke-width="1" stroke-linejoin="miter"/>
<text x="1207.8" y="477.6" font-size="17.6" fill="#111" text-anchor="start" stroke="#111" stroke-width="0.15" textLength="92" lengthAdjust="spacingAndGlyphs">Geom k=8</text>
<line x1="1156.8" y1="497" x2="1193.8" y2="497" stroke="#6c9fea" stroke-width="1.8"/>
<polygon points="1175.4,492 1180.1,497 1175.4,502 1170.7,497" fill="#6b9ef0" stroke="#6b9ef0" stroke-width="1" stroke-linejoin="miter"/>
<text x="1207.8" y="503.3" font-size="17.6" fill="#111" text-anchor="start" stroke="#111" stroke-width="0.15" textLength="105" lengthAdjust="spacingAndGlyphs">Geom k=16</text>
<line x1="1156.8" y1="522.6" x2="1193.8" y2="522.6" stroke="#3a63b2" stroke-width="1.8"/>
<path d="M1171.9 519.1L1178.9 526.1M1171.9 526.1L1178.9 519.1" stroke="#3a66b8" stroke-width="1.3"/>
<text x="1207.8" y="528.9" font-size="17.6" fill="#111" text-anchor="start" stroke="#111" stroke-width="0.15" textLength="105" lengthAdjust="spacingAndGlyphs">Geom k=32</text>
<line x1="1156.8" y1="548.3" x2="1193.8" y2="548.3" stroke="#4d7fcc" stroke-width="1.8"/>
<path d="M1171.7 548.3L1179.1 548.3M1175.4 544.6L1175.4 552" stroke="#4a7ccc" stroke-width="1.3"/>
<text x="1207.8" y="554.6" font-size="17.6" fill="#111" text-anchor="start" stroke="#111" stroke-width="0.15" textLength="105" lengthAdjust="spacingAndGlyphs">Geom k=64</text>
<line x1="1156.8" y1="574" x2="1193.8" y2="574" stroke="#d8141e" stroke-width="2"/>
<path d="M1170.5 569.1L1180.3 578.9M1170.5 578.9L1180.3 569.1" stroke="#dc1620" stroke-width="1.4"/>
<text x="1207.8" y="580.3" font-size="17.6" fill="#111" text-anchor="start" stroke="#111" stroke-width="0.15" textLength="31" lengthAdjust="spacingAndGlyphs">LLP</text>
<line x1="1156.8" y1="599.8" x2="1193.8" y2="599.8" stroke="#7cf010" stroke-width="2.6"/>
<polygon points="1175.4,594.3 1174.05,598.45 1169.69,598.45 1173.22,601.01 1171.87,605.15 1175.4,602.59 1178.93,605.15 1177.58,601.01 1181.11,598.45 1176.75,598.45" fill="#7cfc00" stroke="#7cfc00" stroke-width="1" stroke-linejoin="miter"/>
<text x="1207.8" y="606.1" font-size="17.6" fill="#111" text-anchor="start" stroke="#111" stroke-width="0.15" textLength="24" lengthAdjust="spacingAndGlyphs">RR</text></svg></body></html>
